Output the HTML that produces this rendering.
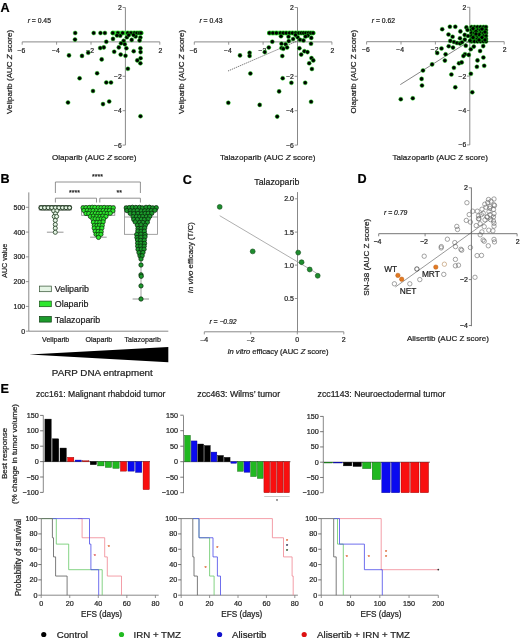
<!DOCTYPE html>
<html><head><meta charset="utf-8"><style>
html,body{margin:0;padding:0;background:#fff;}
body{width:520px;height:641px;overflow:hidden;}
svg{display:block;font-family:"Liberation Sans", sans-serif;will-change:transform;font-variant-ligatures:none;}
text{stroke:#1e1e1e;stroke-width:0.22px;}
text.nb{stroke:none;}
</style></head><body>
<svg width="520" height="641" viewBox="0 0 520 641">
<defs><filter id="gb" x="-20%" y="-50%" width="140%" height="200%"><feGaussianBlur stdDeviation="0.6"/></filter></defs>
<rect width="520" height="641" fill="#fff"/>
<text x="0.60" y="11.60" font-size="12.6" text-anchor="start" font-weight="bold" fill="#000" style="stroke:#000">A</text>
<line x1="22.20" y1="41.90" x2="159.80" y2="41.90" stroke="#7a7a7a" stroke-width="0.9"/>
<line x1="125.40" y1="7.50" x2="125.40" y2="145.10" stroke="#7a7a7a" stroke-width="0.9"/>
<line x1="22.20" y1="41.90" x2="22.20" y2="44.70" stroke="#7a7a7a" stroke-width="0.8"/>
<text x="21.40" y="52.60" font-size="6.8" text-anchor="middle" fill="#1e1e1e">−6</text>
<line x1="56.60" y1="41.90" x2="56.60" y2="44.70" stroke="#7a7a7a" stroke-width="0.8"/>
<text x="55.80" y="52.60" font-size="6.8" text-anchor="middle" fill="#1e1e1e">−4</text>
<line x1="91.00" y1="41.90" x2="91.00" y2="44.70" stroke="#7a7a7a" stroke-width="0.8"/>
<text x="90.20" y="52.60" font-size="6.8" text-anchor="middle" fill="#1e1e1e">−2</text>
<line x1="159.80" y1="41.90" x2="159.80" y2="44.70" stroke="#7a7a7a" stroke-width="0.8"/>
<text x="160.30" y="52.60" font-size="6.8" text-anchor="middle" fill="#1e1e1e">2</text>
<line x1="122.60" y1="7.50" x2="125.40" y2="7.50" stroke="#7a7a7a" stroke-width="0.8"/>
<text x="121.80" y="9.90" font-size="6.8" text-anchor="end" fill="#1e1e1e">2</text>
<line x1="122.60" y1="76.30" x2="125.40" y2="76.30" stroke="#7a7a7a" stroke-width="0.8"/>
<text x="121.80" y="78.70" font-size="6.8" text-anchor="end" fill="#1e1e1e">−2</text>
<line x1="122.60" y1="110.70" x2="125.40" y2="110.70" stroke="#7a7a7a" stroke-width="0.8"/>
<text x="121.80" y="113.10" font-size="6.8" text-anchor="end" fill="#1e1e1e">−4</text>
<line x1="122.60" y1="145.10" x2="125.40" y2="145.10" stroke="#7a7a7a" stroke-width="0.8"/>
<text x="121.80" y="147.50" font-size="6.8" text-anchor="end" fill="#1e1e1e">−6</text>
<text x="27.70" y="22.50" font-size="6.8" fill="#1e1e1e"><tspan font-style="italic">r</tspan> = 0.45</text>
<text x="12.20" y="71.90" font-size="8" text-anchor="middle" fill="#1e1e1e" transform="rotate(-90 12.20 71.90)">Veliparib (AUC <tspan font-style="italic">Z</tspan> score)</text>
<text x="94.30" y="160.3" font-size="8.1" text-anchor="middle" fill="#1e1e1e">Olaparib (AUC <tspan font-style="italic">Z</tspan> score)</text>
<rect x="110.5" y="30.8" width="33.0" height="4.4" rx="2" fill="#22dd22" opacity="0.8" filter="url(#gb)"/>
<circle cx="75.20" cy="33.00" r="2.05" fill="#000" stroke="#19e019" stroke-width="0.45"/>
<circle cx="93.70" cy="33.00" r="2.05" fill="#000" stroke="#19e019" stroke-width="0.45"/>
<circle cx="100.50" cy="33.00" r="2.05" fill="#000" stroke="#19e019" stroke-width="0.45"/>
<circle cx="104.90" cy="33.00" r="2.05" fill="#000" stroke="#19e019" stroke-width="0.45"/>
<circle cx="112.80" cy="33.00" r="2.05" fill="#000" stroke="#19e019" stroke-width="0.45"/>
<circle cx="117.90" cy="33.00" r="2.05" fill="#000" stroke="#19e019" stroke-width="0.45"/>
<circle cx="122.60" cy="33.00" r="2.05" fill="#000" stroke="#19e019" stroke-width="0.45"/>
<circle cx="127.70" cy="33.00" r="2.05" fill="#000" stroke="#19e019" stroke-width="0.45"/>
<circle cx="131.00" cy="33.00" r="2.05" fill="#000" stroke="#19e019" stroke-width="0.45"/>
<circle cx="134.30" cy="33.00" r="2.05" fill="#000" stroke="#19e019" stroke-width="0.45"/>
<circle cx="137.00" cy="33.00" r="2.05" fill="#000" stroke="#19e019" stroke-width="0.45"/>
<circle cx="139.40" cy="33.00" r="2.05" fill="#000" stroke="#19e019" stroke-width="0.45"/>
<circle cx="141.00" cy="33.00" r="2.05" fill="#000" stroke="#19e019" stroke-width="0.45"/>
<circle cx="75.00" cy="39.60" r="2.05" fill="#000" stroke="#19e019" stroke-width="0.45"/>
<circle cx="120.20" cy="35.80" r="2.05" fill="#000" stroke="#19e019" stroke-width="0.45"/>
<circle cx="126.90" cy="37.30" r="2.05" fill="#000" stroke="#19e019" stroke-width="0.45"/>
<circle cx="128.80" cy="35.10" r="2.05" fill="#000" stroke="#19e019" stroke-width="0.45"/>
<circle cx="135.60" cy="36.50" r="2.05" fill="#000" stroke="#19e019" stroke-width="0.45"/>
<circle cx="140.40" cy="37.50" r="2.05" fill="#000" stroke="#19e019" stroke-width="0.45"/>
<circle cx="113.00" cy="38.90" r="2.05" fill="#000" stroke="#19e019" stroke-width="0.45"/>
<circle cx="131.70" cy="39.90" r="2.05" fill="#000" stroke="#19e019" stroke-width="0.45"/>
<circle cx="139.60" cy="40.40" r="2.05" fill="#000" stroke="#19e019" stroke-width="0.45"/>
<circle cx="106.30" cy="41.80" r="2.05" fill="#000" stroke="#19e019" stroke-width="0.45"/>
<circle cx="123.60" cy="40.90" r="2.05" fill="#000" stroke="#19e019" stroke-width="0.45"/>
<circle cx="121.00" cy="43.30" r="2.05" fill="#000" stroke="#19e019" stroke-width="0.45"/>
<circle cx="124.80" cy="44.20" r="2.05" fill="#000" stroke="#19e019" stroke-width="0.45"/>
<circle cx="103.80" cy="47.40" r="2.05" fill="#000" stroke="#19e019" stroke-width="0.45"/>
<circle cx="100.20" cy="48.00" r="2.05" fill="#000" stroke="#19e019" stroke-width="0.45"/>
<circle cx="118.80" cy="47.40" r="2.05" fill="#000" stroke="#19e019" stroke-width="0.45"/>
<circle cx="126.40" cy="48.30" r="2.05" fill="#000" stroke="#19e019" stroke-width="0.45"/>
<circle cx="140.40" cy="48.30" r="2.05" fill="#000" stroke="#19e019" stroke-width="0.45"/>
<circle cx="114.20" cy="51.70" r="2.05" fill="#000" stroke="#19e019" stroke-width="0.45"/>
<circle cx="133.70" cy="51.20" r="2.05" fill="#000" stroke="#19e019" stroke-width="0.45"/>
<circle cx="140.60" cy="52.10" r="2.05" fill="#000" stroke="#19e019" stroke-width="0.45"/>
<circle cx="120.70" cy="54.60" r="2.05" fill="#000" stroke="#19e019" stroke-width="0.45"/>
<circle cx="125.50" cy="55.80" r="2.05" fill="#000" stroke="#19e019" stroke-width="0.45"/>
<circle cx="101.70" cy="59.40" r="2.05" fill="#000" stroke="#19e019" stroke-width="0.45"/>
<circle cx="140.60" cy="58.20" r="2.05" fill="#000" stroke="#19e019" stroke-width="0.45"/>
<circle cx="137.30" cy="60.40" r="2.05" fill="#000" stroke="#19e019" stroke-width="0.45"/>
<circle cx="140.40" cy="63.30" r="2.05" fill="#000" stroke="#19e019" stroke-width="0.45"/>
<circle cx="127.90" cy="68.80" r="2.05" fill="#000" stroke="#19e019" stroke-width="0.45"/>
<circle cx="69.00" cy="55.40" r="2.05" fill="#000" stroke="#19e019" stroke-width="0.45"/>
<circle cx="82.00" cy="55.90" r="2.05" fill="#000" stroke="#19e019" stroke-width="0.45"/>
<circle cx="88.20" cy="52.80" r="2.05" fill="#000" stroke="#19e019" stroke-width="0.45"/>
<circle cx="79.60" cy="78.30" r="2.05" fill="#000" stroke="#19e019" stroke-width="0.45"/>
<circle cx="97.10" cy="73.30" r="2.05" fill="#000" stroke="#19e019" stroke-width="0.45"/>
<circle cx="93.00" cy="91.00" r="2.05" fill="#000" stroke="#19e019" stroke-width="0.45"/>
<circle cx="106.30" cy="82.50" r="2.05" fill="#000" stroke="#19e019" stroke-width="0.45"/>
<circle cx="111.00" cy="82.50" r="2.05" fill="#000" stroke="#19e019" stroke-width="0.45"/>
<circle cx="68.00" cy="102.50" r="2.05" fill="#000" stroke="#19e019" stroke-width="0.45"/>
<circle cx="103.00" cy="104.10" r="2.05" fill="#000" stroke="#19e019" stroke-width="0.45"/>
<circle cx="109.20" cy="101.50" r="2.05" fill="#000" stroke="#19e019" stroke-width="0.45"/>
<circle cx="140.50" cy="116.20" r="2.05" fill="#000" stroke="#19e019" stroke-width="0.45"/>
<circle cx="133.50" cy="35.00" r="2.05" fill="#000" stroke="#19e019" stroke-width="0.45"/>
<circle cx="117.00" cy="35.50" r="2.05" fill="#000" stroke="#19e019" stroke-width="0.45"/>
<line x1="194.30" y1="41.90" x2="331.90" y2="41.90" stroke="#7a7a7a" stroke-width="0.9"/>
<line x1="297.50" y1="7.50" x2="297.50" y2="145.10" stroke="#7a7a7a" stroke-width="0.9"/>
<line x1="194.30" y1="41.90" x2="194.30" y2="44.70" stroke="#7a7a7a" stroke-width="0.8"/>
<text x="193.50" y="52.60" font-size="6.8" text-anchor="middle" fill="#1e1e1e">−6</text>
<line x1="228.70" y1="41.90" x2="228.70" y2="44.70" stroke="#7a7a7a" stroke-width="0.8"/>
<text x="227.90" y="52.60" font-size="6.8" text-anchor="middle" fill="#1e1e1e">−4</text>
<line x1="263.10" y1="41.90" x2="263.10" y2="44.70" stroke="#7a7a7a" stroke-width="0.8"/>
<text x="262.30" y="52.60" font-size="6.8" text-anchor="middle" fill="#1e1e1e">−2</text>
<line x1="331.90" y1="41.90" x2="331.90" y2="44.70" stroke="#7a7a7a" stroke-width="0.8"/>
<text x="332.40" y="52.60" font-size="6.8" text-anchor="middle" fill="#1e1e1e">2</text>
<line x1="294.70" y1="7.50" x2="297.50" y2="7.50" stroke="#7a7a7a" stroke-width="0.8"/>
<text x="293.90" y="9.90" font-size="6.8" text-anchor="end" fill="#1e1e1e">2</text>
<line x1="294.70" y1="76.30" x2="297.50" y2="76.30" stroke="#7a7a7a" stroke-width="0.8"/>
<text x="293.90" y="78.70" font-size="6.8" text-anchor="end" fill="#1e1e1e">−2</text>
<line x1="294.70" y1="110.70" x2="297.50" y2="110.70" stroke="#7a7a7a" stroke-width="0.8"/>
<text x="293.90" y="113.10" font-size="6.8" text-anchor="end" fill="#1e1e1e">−4</text>
<line x1="294.70" y1="145.10" x2="297.50" y2="145.10" stroke="#7a7a7a" stroke-width="0.8"/>
<text x="293.90" y="147.50" font-size="6.8" text-anchor="end" fill="#1e1e1e">−6</text>
<text x="199.40" y="23.10" font-size="6.8" fill="#1e1e1e"><tspan font-style="italic">r</tspan> = 0.43</text>
<text x="184.10" y="71.90" font-size="8" text-anchor="middle" fill="#1e1e1e" transform="rotate(-90 184.10 71.90)">Veliparib (AUC <tspan font-style="italic">Z</tspan> score)</text>
<text x="267.70" y="160.3" font-size="8.1" text-anchor="middle" fill="#1e1e1e">Talazoparib (AUC <tspan font-style="italic">Z</tspan> score)</text>
<line x1="228.00" y1="71.00" x2="310.00" y2="35.50" stroke="#333" stroke-width="0.7" stroke-dasharray="1.3,0.9"/>
<rect x="267.0" y="30.8" width="48.5" height="4.4" rx="2" fill="#22dd22" opacity="0.8" filter="url(#gb)"/>
<circle cx="269.40" cy="33.00" r="2.05" fill="#000" stroke="#19e019" stroke-width="0.45"/>
<circle cx="272.90" cy="33.00" r="2.05" fill="#000" stroke="#19e019" stroke-width="0.45"/>
<circle cx="276.40" cy="33.00" r="2.05" fill="#000" stroke="#19e019" stroke-width="0.45"/>
<circle cx="280.30" cy="33.00" r="2.05" fill="#000" stroke="#19e019" stroke-width="0.45"/>
<circle cx="283.20" cy="33.00" r="2.05" fill="#000" stroke="#19e019" stroke-width="0.45"/>
<circle cx="286.20" cy="33.00" r="2.05" fill="#000" stroke="#19e019" stroke-width="0.45"/>
<circle cx="289.50" cy="33.00" r="2.05" fill="#000" stroke="#19e019" stroke-width="0.45"/>
<circle cx="292.50" cy="33.00" r="2.05" fill="#000" stroke="#19e019" stroke-width="0.45"/>
<circle cx="295.70" cy="33.00" r="2.05" fill="#000" stroke="#19e019" stroke-width="0.45"/>
<circle cx="298.90" cy="33.00" r="2.05" fill="#000" stroke="#19e019" stroke-width="0.45"/>
<circle cx="301.30" cy="33.00" r="2.05" fill="#000" stroke="#19e019" stroke-width="0.45"/>
<circle cx="303.60" cy="33.00" r="2.05" fill="#000" stroke="#19e019" stroke-width="0.45"/>
<circle cx="306.00" cy="33.00" r="2.05" fill="#000" stroke="#19e019" stroke-width="0.45"/>
<circle cx="308.40" cy="33.00" r="2.05" fill="#000" stroke="#19e019" stroke-width="0.45"/>
<circle cx="310.80" cy="33.00" r="2.05" fill="#000" stroke="#19e019" stroke-width="0.45"/>
<circle cx="313.10" cy="33.00" r="2.05" fill="#000" stroke="#19e019" stroke-width="0.45"/>
<circle cx="281.00" cy="36.20" r="2.05" fill="#000" stroke="#19e019" stroke-width="0.45"/>
<circle cx="288.50" cy="36.70" r="2.05" fill="#000" stroke="#19e019" stroke-width="0.45"/>
<circle cx="293.10" cy="39.00" r="2.05" fill="#000" stroke="#19e019" stroke-width="0.45"/>
<circle cx="297.70" cy="37.30" r="2.05" fill="#000" stroke="#19e019" stroke-width="0.45"/>
<circle cx="300.00" cy="39.80" r="2.05" fill="#000" stroke="#19e019" stroke-width="0.45"/>
<circle cx="303.50" cy="40.50" r="2.05" fill="#000" stroke="#19e019" stroke-width="0.45"/>
<circle cx="307.80" cy="35.60" r="2.05" fill="#000" stroke="#19e019" stroke-width="0.45"/>
<circle cx="311.30" cy="37.90" r="2.05" fill="#000" stroke="#19e019" stroke-width="0.45"/>
<circle cx="272.30" cy="41.70" r="2.05" fill="#000" stroke="#19e019" stroke-width="0.45"/>
<circle cx="288.80" cy="41.10" r="2.05" fill="#000" stroke="#19e019" stroke-width="0.45"/>
<circle cx="281.50" cy="43.70" r="2.05" fill="#000" stroke="#19e019" stroke-width="0.45"/>
<circle cx="285.60" cy="44.20" r="2.05" fill="#000" stroke="#19e019" stroke-width="0.45"/>
<circle cx="268.80" cy="47.50" r="2.05" fill="#000" stroke="#19e019" stroke-width="0.45"/>
<circle cx="264.80" cy="52.10" r="2.05" fill="#000" stroke="#19e019" stroke-width="0.45"/>
<circle cx="281.50" cy="48.00" r="2.05" fill="#000" stroke="#19e019" stroke-width="0.45"/>
<circle cx="283.30" cy="48.80" r="2.05" fill="#000" stroke="#19e019" stroke-width="0.45"/>
<circle cx="287.10" cy="47.50" r="2.05" fill="#000" stroke="#19e019" stroke-width="0.45"/>
<circle cx="282.30" cy="56.00" r="2.05" fill="#000" stroke="#19e019" stroke-width="0.45"/>
<circle cx="299.40" cy="48.30" r="2.05" fill="#000" stroke="#19e019" stroke-width="0.45"/>
<circle cx="301.20" cy="54.60" r="2.05" fill="#000" stroke="#19e019" stroke-width="0.45"/>
<circle cx="304.40" cy="51.20" r="2.05" fill="#000" stroke="#19e019" stroke-width="0.45"/>
<circle cx="307.50" cy="52.10" r="2.05" fill="#000" stroke="#19e019" stroke-width="0.45"/>
<circle cx="311.00" cy="43.70" r="2.05" fill="#000" stroke="#19e019" stroke-width="0.45"/>
<circle cx="311.50" cy="58.10" r="2.05" fill="#000" stroke="#19e019" stroke-width="0.45"/>
<circle cx="313.30" cy="60.40" r="2.05" fill="#000" stroke="#19e019" stroke-width="0.45"/>
<circle cx="309.20" cy="63.30" r="2.05" fill="#000" stroke="#19e019" stroke-width="0.45"/>
<circle cx="311.90" cy="69.00" r="2.05" fill="#000" stroke="#19e019" stroke-width="0.45"/>
<circle cx="282.70" cy="78.30" r="2.05" fill="#000" stroke="#19e019" stroke-width="0.45"/>
<circle cx="240.00" cy="55.40" r="2.05" fill="#000" stroke="#19e019" stroke-width="0.45"/>
<circle cx="249.60" cy="52.80" r="2.05" fill="#000" stroke="#19e019" stroke-width="0.45"/>
<circle cx="249.60" cy="55.90" r="2.05" fill="#000" stroke="#19e019" stroke-width="0.45"/>
<circle cx="250.40" cy="73.50" r="2.05" fill="#000" stroke="#19e019" stroke-width="0.45"/>
<circle cx="228.30" cy="102.80" r="2.05" fill="#000" stroke="#19e019" stroke-width="0.45"/>
<circle cx="259.70" cy="104.90" r="2.05" fill="#000" stroke="#19e019" stroke-width="0.45"/>
<circle cx="277.20" cy="116.60" r="2.05" fill="#000" stroke="#19e019" stroke-width="0.45"/>
<circle cx="279.10" cy="91.40" r="2.05" fill="#000" stroke="#19e019" stroke-width="0.45"/>
<circle cx="291.40" cy="82.80" r="2.05" fill="#000" stroke="#19e019" stroke-width="0.45"/>
<circle cx="305.20" cy="82.80" r="2.05" fill="#000" stroke="#19e019" stroke-width="0.45"/>
<circle cx="311.10" cy="101.80" r="2.05" fill="#000" stroke="#19e019" stroke-width="0.45"/>
<circle cx="295.50" cy="35.00" r="2.05" fill="#000" stroke="#19e019" stroke-width="0.45"/>
<circle cx="305.50" cy="36.50" r="2.05" fill="#000" stroke="#19e019" stroke-width="0.45"/>
<line x1="366.60" y1="41.70" x2="504.20" y2="41.70" stroke="#7a7a7a" stroke-width="0.9"/>
<line x1="469.80" y1="7.30" x2="469.80" y2="144.90" stroke="#7a7a7a" stroke-width="0.9"/>
<line x1="366.60" y1="41.70" x2="366.60" y2="44.50" stroke="#7a7a7a" stroke-width="0.8"/>
<text x="365.80" y="52.40" font-size="6.8" text-anchor="middle" fill="#1e1e1e">−6</text>
<line x1="401.00" y1="41.70" x2="401.00" y2="44.50" stroke="#7a7a7a" stroke-width="0.8"/>
<text x="400.20" y="52.40" font-size="6.8" text-anchor="middle" fill="#1e1e1e">−4</text>
<line x1="435.40" y1="41.70" x2="435.40" y2="44.50" stroke="#7a7a7a" stroke-width="0.8"/>
<text x="434.60" y="52.40" font-size="6.8" text-anchor="middle" fill="#1e1e1e">−2</text>
<line x1="504.20" y1="41.70" x2="504.20" y2="44.50" stroke="#7a7a7a" stroke-width="0.8"/>
<text x="504.70" y="52.40" font-size="6.8" text-anchor="middle" fill="#1e1e1e">2</text>
<line x1="467.00" y1="7.30" x2="469.80" y2="7.30" stroke="#7a7a7a" stroke-width="0.8"/>
<text x="466.20" y="9.70" font-size="6.8" text-anchor="end" fill="#1e1e1e">2</text>
<line x1="467.00" y1="76.10" x2="469.80" y2="76.10" stroke="#7a7a7a" stroke-width="0.8"/>
<text x="466.20" y="78.50" font-size="6.8" text-anchor="end" fill="#1e1e1e">−2</text>
<line x1="467.00" y1="110.50" x2="469.80" y2="110.50" stroke="#7a7a7a" stroke-width="0.8"/>
<text x="466.20" y="112.90" font-size="6.8" text-anchor="end" fill="#1e1e1e">−4</text>
<line x1="467.00" y1="144.90" x2="469.80" y2="144.90" stroke="#7a7a7a" stroke-width="0.8"/>
<text x="466.20" y="147.30" font-size="6.8" text-anchor="end" fill="#1e1e1e">−6</text>
<text x="371.80" y="23.10" font-size="6.8" fill="#1e1e1e"><tspan font-style="italic">r</tspan> = 0.62</text>
<text x="356.40" y="71.70" font-size="8" text-anchor="middle" fill="#1e1e1e" transform="rotate(-90 356.40 71.70)">Olaparib (AUC Z score)</text>
<text x="440.20" y="160.3" font-size="8.1" text-anchor="middle" fill="#1e1e1e">Talazoparib (AUC Z score)</text>
<line x1="400.30" y1="84.60" x2="487.00" y2="30.00" stroke="#333" stroke-width="0.6"/>
<rect x="470.0" y="26.0" width="17.0" height="16.5" rx="2" fill="#22dd22" opacity="0.7" filter="url(#gb)"/>
<circle cx="471.50" cy="27.00" r="2.05" fill="#000" stroke="#19e019" stroke-width="0.45"/>
<circle cx="474.50" cy="27.00" r="2.05" fill="#000" stroke="#19e019" stroke-width="0.45"/>
<circle cx="477.50" cy="27.00" r="2.05" fill="#000" stroke="#19e019" stroke-width="0.45"/>
<circle cx="480.50" cy="27.00" r="2.05" fill="#000" stroke="#19e019" stroke-width="0.45"/>
<circle cx="483.50" cy="27.00" r="2.05" fill="#000" stroke="#19e019" stroke-width="0.45"/>
<circle cx="486.00" cy="27.00" r="2.05" fill="#000" stroke="#19e019" stroke-width="0.45"/>
<circle cx="471.50" cy="30.00" r="2.05" fill="#000" stroke="#19e019" stroke-width="0.45"/>
<circle cx="474.50" cy="30.00" r="2.05" fill="#000" stroke="#19e019" stroke-width="0.45"/>
<circle cx="477.50" cy="30.00" r="2.05" fill="#000" stroke="#19e019" stroke-width="0.45"/>
<circle cx="480.50" cy="30.00" r="2.05" fill="#000" stroke="#19e019" stroke-width="0.45"/>
<circle cx="483.50" cy="30.00" r="2.05" fill="#000" stroke="#19e019" stroke-width="0.45"/>
<circle cx="486.00" cy="30.00" r="2.05" fill="#000" stroke="#19e019" stroke-width="0.45"/>
<circle cx="471.50" cy="33.00" r="2.05" fill="#000" stroke="#19e019" stroke-width="0.45"/>
<circle cx="474.50" cy="33.00" r="2.05" fill="#000" stroke="#19e019" stroke-width="0.45"/>
<circle cx="477.50" cy="33.00" r="2.05" fill="#000" stroke="#19e019" stroke-width="0.45"/>
<circle cx="480.50" cy="33.00" r="2.05" fill="#000" stroke="#19e019" stroke-width="0.45"/>
<circle cx="483.50" cy="33.00" r="2.05" fill="#000" stroke="#19e019" stroke-width="0.45"/>
<circle cx="486.00" cy="33.00" r="2.05" fill="#000" stroke="#19e019" stroke-width="0.45"/>
<circle cx="471.50" cy="36.00" r="2.05" fill="#000" stroke="#19e019" stroke-width="0.45"/>
<circle cx="474.50" cy="36.00" r="2.05" fill="#000" stroke="#19e019" stroke-width="0.45"/>
<circle cx="477.50" cy="36.00" r="2.05" fill="#000" stroke="#19e019" stroke-width="0.45"/>
<circle cx="480.50" cy="36.00" r="2.05" fill="#000" stroke="#19e019" stroke-width="0.45"/>
<circle cx="483.50" cy="36.00" r="2.05" fill="#000" stroke="#19e019" stroke-width="0.45"/>
<circle cx="486.00" cy="36.00" r="2.05" fill="#000" stroke="#19e019" stroke-width="0.45"/>
<circle cx="471.50" cy="39.00" r="2.05" fill="#000" stroke="#19e019" stroke-width="0.45"/>
<circle cx="474.50" cy="39.00" r="2.05" fill="#000" stroke="#19e019" stroke-width="0.45"/>
<circle cx="477.50" cy="39.00" r="2.05" fill="#000" stroke="#19e019" stroke-width="0.45"/>
<circle cx="480.50" cy="39.00" r="2.05" fill="#000" stroke="#19e019" stroke-width="0.45"/>
<circle cx="483.50" cy="39.00" r="2.05" fill="#000" stroke="#19e019" stroke-width="0.45"/>
<circle cx="486.00" cy="39.00" r="2.05" fill="#000" stroke="#19e019" stroke-width="0.45"/>
<circle cx="471.50" cy="41.50" r="2.05" fill="#000" stroke="#19e019" stroke-width="0.45"/>
<circle cx="474.50" cy="41.50" r="2.05" fill="#000" stroke="#19e019" stroke-width="0.45"/>
<circle cx="477.50" cy="41.50" r="2.05" fill="#000" stroke="#19e019" stroke-width="0.45"/>
<circle cx="480.50" cy="41.50" r="2.05" fill="#000" stroke="#19e019" stroke-width="0.45"/>
<circle cx="483.50" cy="41.50" r="2.05" fill="#000" stroke="#19e019" stroke-width="0.45"/>
<circle cx="486.00" cy="41.50" r="2.05" fill="#000" stroke="#19e019" stroke-width="0.45"/>
<circle cx="473.00" cy="28.50" r="2.05" fill="#000" stroke="#19e019" stroke-width="0.45"/>
<circle cx="476.00" cy="31.50" r="2.05" fill="#000" stroke="#19e019" stroke-width="0.45"/>
<circle cx="479.00" cy="34.50" r="2.05" fill="#000" stroke="#19e019" stroke-width="0.45"/>
<circle cx="482.00" cy="37.50" r="2.05" fill="#000" stroke="#19e019" stroke-width="0.45"/>
<circle cx="485.00" cy="40.00" r="2.05" fill="#000" stroke="#19e019" stroke-width="0.45"/>
<circle cx="473.00" cy="37.50" r="2.05" fill="#000" stroke="#19e019" stroke-width="0.45"/>
<circle cx="476.00" cy="34.00" r="2.05" fill="#000" stroke="#19e019" stroke-width="0.45"/>
<circle cx="479.00" cy="40.00" r="2.05" fill="#000" stroke="#19e019" stroke-width="0.45"/>
<circle cx="482.00" cy="29.00" r="2.05" fill="#000" stroke="#19e019" stroke-width="0.45"/>
<circle cx="485.00" cy="32.00" r="2.05" fill="#000" stroke="#19e019" stroke-width="0.45"/>
<circle cx="442.20" cy="29.20" r="2.05" fill="#000" stroke="#19e019" stroke-width="0.45"/>
<circle cx="449.90" cy="26.70" r="2.05" fill="#000" stroke="#19e019" stroke-width="0.45"/>
<circle cx="455.30" cy="26.70" r="2.05" fill="#000" stroke="#19e019" stroke-width="0.45"/>
<circle cx="466.40" cy="27.40" r="2.05" fill="#000" stroke="#19e019" stroke-width="0.45"/>
<circle cx="460.40" cy="31.40" r="2.05" fill="#000" stroke="#19e019" stroke-width="0.45"/>
<circle cx="448.50" cy="34.50" r="2.05" fill="#000" stroke="#19e019" stroke-width="0.45"/>
<circle cx="452.60" cy="36.80" r="2.05" fill="#000" stroke="#19e019" stroke-width="0.45"/>
<circle cx="460.00" cy="38.30" r="2.05" fill="#000" stroke="#19e019" stroke-width="0.45"/>
<circle cx="464.70" cy="34.90" r="2.05" fill="#000" stroke="#19e019" stroke-width="0.45"/>
<circle cx="464.80" cy="39.60" r="2.05" fill="#000" stroke="#19e019" stroke-width="0.45"/>
<circle cx="450.30" cy="40.90" r="2.05" fill="#000" stroke="#19e019" stroke-width="0.45"/>
<circle cx="454.00" cy="42.00" r="2.05" fill="#000" stroke="#19e019" stroke-width="0.45"/>
<circle cx="457.00" cy="43.00" r="2.05" fill="#000" stroke="#19e019" stroke-width="0.45"/>
<circle cx="460.00" cy="43.50" r="2.05" fill="#000" stroke="#19e019" stroke-width="0.45"/>
<circle cx="462.00" cy="42.30" r="2.05" fill="#000" stroke="#19e019" stroke-width="0.45"/>
<circle cx="448.70" cy="46.20" r="2.05" fill="#000" stroke="#19e019" stroke-width="0.45"/>
<circle cx="453.00" cy="47.60" r="2.05" fill="#000" stroke="#19e019" stroke-width="0.45"/>
<circle cx="465.80" cy="45.70" r="2.05" fill="#000" stroke="#19e019" stroke-width="0.45"/>
<circle cx="441.50" cy="48.50" r="2.05" fill="#000" stroke="#19e019" stroke-width="0.45"/>
<circle cx="437.20" cy="53.00" r="2.05" fill="#000" stroke="#19e019" stroke-width="0.45"/>
<circle cx="445.60" cy="54.30" r="2.05" fill="#000" stroke="#19e019" stroke-width="0.45"/>
<circle cx="444.90" cy="60.60" r="2.05" fill="#000" stroke="#19e019" stroke-width="0.45"/>
<circle cx="432.10" cy="64.40" r="2.05" fill="#000" stroke="#19e019" stroke-width="0.45"/>
<circle cx="423.00" cy="70.50" r="2.05" fill="#000" stroke="#19e019" stroke-width="0.45"/>
<circle cx="421.60" cy="78.90" r="2.05" fill="#000" stroke="#19e019" stroke-width="0.45"/>
<circle cx="422.00" cy="85.50" r="2.05" fill="#000" stroke="#19e019" stroke-width="0.45"/>
<circle cx="470.80" cy="49.20" r="2.05" fill="#000" stroke="#19e019" stroke-width="0.45"/>
<circle cx="473.80" cy="46.60" r="2.05" fill="#000" stroke="#19e019" stroke-width="0.45"/>
<circle cx="483.20" cy="46.10" r="2.05" fill="#000" stroke="#19e019" stroke-width="0.45"/>
<circle cx="480.10" cy="51.00" r="2.05" fill="#000" stroke="#19e019" stroke-width="0.45"/>
<circle cx="465.00" cy="54.20" r="2.05" fill="#000" stroke="#19e019" stroke-width="0.45"/>
<circle cx="463.40" cy="56.00" r="2.05" fill="#000" stroke="#19e019" stroke-width="0.45"/>
<circle cx="468.80" cy="54.90" r="2.05" fill="#000" stroke="#19e019" stroke-width="0.45"/>
<circle cx="459.00" cy="63.30" r="2.05" fill="#000" stroke="#19e019" stroke-width="0.45"/>
<circle cx="461.70" cy="62.40" r="2.05" fill="#000" stroke="#19e019" stroke-width="0.45"/>
<circle cx="453.90" cy="67.80" r="2.05" fill="#000" stroke="#19e019" stroke-width="0.45"/>
<circle cx="451.40" cy="74.50" r="2.05" fill="#000" stroke="#19e019" stroke-width="0.45"/>
<circle cx="470.90" cy="73.80" r="2.05" fill="#000" stroke="#19e019" stroke-width="0.45"/>
<circle cx="477.50" cy="60.40" r="2.05" fill="#000" stroke="#19e019" stroke-width="0.45"/>
<circle cx="483.40" cy="57.50" r="2.05" fill="#000" stroke="#19e019" stroke-width="0.45"/>
<circle cx="476.90" cy="66.80" r="2.05" fill="#000" stroke="#19e019" stroke-width="0.45"/>
<circle cx="484.20" cy="65.80" r="2.05" fill="#000" stroke="#19e019" stroke-width="0.45"/>
<circle cx="455.30" cy="87.30" r="2.05" fill="#000" stroke="#19e019" stroke-width="0.45"/>
<circle cx="400.80" cy="99.20" r="2.05" fill="#000" stroke="#19e019" stroke-width="0.45"/>
<circle cx="412.80" cy="98.30" r="2.05" fill="#000" stroke="#19e019" stroke-width="0.45"/>
<circle cx="472.30" cy="92.30" r="2.05" fill="#000" stroke="#19e019" stroke-width="0.45"/>
<circle cx="470.00" cy="40.70" r="2.05" fill="#000" stroke="#19e019" stroke-width="0.45"/>
<circle cx="467.50" cy="30.00" r="2.05" fill="#000" stroke="#19e019" stroke-width="0.45"/>
<circle cx="468.00" cy="36.00" r="2.05" fill="#000" stroke="#19e019" stroke-width="0.45"/>
<text x="0.60" y="183.40" font-size="12.6" text-anchor="start" font-weight="bold" fill="#000" style="stroke:#000">B</text>
<line x1="28.80" y1="192.40" x2="28.80" y2="331.20" stroke="#7a7a7a" stroke-width="0.9"/>
<line x1="28.80" y1="331.20" x2="168.30" y2="331.20" stroke="#7a7a7a" stroke-width="0.9"/>
<line x1="25.80" y1="331.20" x2="28.80" y2="331.20" stroke="#7a7a7a" stroke-width="0.8"/>
<text x="25.20" y="333.70" font-size="7" text-anchor="end" fill="#1e1e1e">0</text>
<line x1="25.80" y1="306.42" x2="28.80" y2="306.42" stroke="#7a7a7a" stroke-width="0.8"/>
<text x="25.20" y="308.92" font-size="7" text-anchor="end" fill="#1e1e1e">100</text>
<line x1="25.80" y1="281.64" x2="28.80" y2="281.64" stroke="#7a7a7a" stroke-width="0.8"/>
<text x="25.20" y="284.14" font-size="7" text-anchor="end" fill="#1e1e1e">200</text>
<line x1="25.80" y1="256.86" x2="28.80" y2="256.86" stroke="#7a7a7a" stroke-width="0.8"/>
<text x="25.20" y="259.36" font-size="7" text-anchor="end" fill="#1e1e1e">300</text>
<line x1="25.80" y1="232.08" x2="28.80" y2="232.08" stroke="#7a7a7a" stroke-width="0.8"/>
<text x="25.20" y="234.58" font-size="7" text-anchor="end" fill="#1e1e1e">400</text>
<line x1="25.80" y1="207.30" x2="28.80" y2="207.30" stroke="#7a7a7a" stroke-width="0.8"/>
<text x="25.20" y="209.80" font-size="7" text-anchor="end" fill="#1e1e1e">500</text>
<text x="7.2" y="260.8" font-size="7.15" text-anchor="middle" fill="#1e1e1e" transform="rotate(-90 7.2 260.8)">AUC value</text>
<text x="55.70" y="341.80" font-size="7.1" text-anchor="middle" fill="#1e1e1e">Veliparib</text>
<text x="98.90" y="341.80" font-size="7.1" text-anchor="middle" fill="#1e1e1e">Olaparib</text>
<text x="142.70" y="341.80" font-size="7.1" text-anchor="middle" fill="#1e1e1e">Talazoparib</text>
<path d="M55.4,193 V182 H140.4 V193" stroke="#777" stroke-width="0.8" fill="none"/>
<path d="M55.4,202.5 V198.2 H96.5 V202.5" stroke="#777" stroke-width="0.8" fill="none"/>
<path d="M99.8,202.5 V198.2 H140.4 V202.5" stroke="#777" stroke-width="0.8" fill="none"/>
<text x="97.50" y="179.20" font-size="7" text-anchor="middle" fill="#1e1e1e">****</text>
<text x="74.50" y="195.40" font-size="7" text-anchor="middle" fill="#1e1e1e">****</text>
<text x="119.30" y="195.40" font-size="7" text-anchor="middle" fill="#1e1e1e">**</text>
<rect x="39.20" y="205.60" width="32.00" height="4.40" fill="none" stroke="#8a8a8a" stroke-width="0.8"/>
<line x1="46.90" y1="232.20" x2="63.50" y2="232.20" stroke="#8a8a8a" stroke-width="0.9"/>
<rect x="81.60" y="205.90" width="33.20" height="9.40" fill="none" stroke="#8a8a8a" stroke-width="0.8"/>
<line x1="98.50" y1="215.30" x2="98.50" y2="237.20" stroke="#8a8a8a" stroke-width="0.8"/>
<line x1="90.10" y1="237.20" x2="106.70" y2="237.20" stroke="#8a8a8a" stroke-width="0.9"/>
<rect x="124.50" y="206.10" width="33.00" height="28.20" fill="none" stroke="#8a8a8a" stroke-width="0.8"/>
<line x1="124.50" y1="217.00" x2="157.50" y2="217.00" stroke="#8a8a8a" stroke-width="0.8"/>
<line x1="141.00" y1="234.30" x2="141.00" y2="299.00" stroke="#8a8a8a" stroke-width="0.8"/>
<line x1="132.60" y1="299.00" x2="149.00" y2="299.00" stroke="#8a8a8a" stroke-width="0.9"/>
<circle cx="41.00" cy="207.70" r="1.95" fill="#e4f4e4" stroke="#1e3a1e" stroke-width="0.9"/>
<circle cx="44.58" cy="207.70" r="1.95" fill="#e4f4e4" stroke="#1e3a1e" stroke-width="0.9"/>
<circle cx="48.15" cy="207.70" r="1.95" fill="#e4f4e4" stroke="#1e3a1e" stroke-width="0.9"/>
<circle cx="51.72" cy="207.70" r="1.95" fill="#e4f4e4" stroke="#1e3a1e" stroke-width="0.9"/>
<circle cx="55.30" cy="207.70" r="1.95" fill="#e4f4e4" stroke="#1e3a1e" stroke-width="0.9"/>
<circle cx="58.88" cy="207.70" r="1.95" fill="#e4f4e4" stroke="#1e3a1e" stroke-width="0.9"/>
<circle cx="62.45" cy="207.70" r="1.95" fill="#e4f4e4" stroke="#1e3a1e" stroke-width="0.9"/>
<circle cx="66.02" cy="207.70" r="1.95" fill="#e4f4e4" stroke="#1e3a1e" stroke-width="0.9"/>
<circle cx="69.60" cy="207.70" r="1.95" fill="#e4f4e4" stroke="#1e3a1e" stroke-width="0.9"/>
<rect x="38.9" y="205.5" width="32.8" height="4.6" rx="2.2" fill="none" stroke="#2a3f2a" stroke-width="0.7"/>
<circle cx="53.70" cy="210.90" r="2.05" fill="#e4f4e4" stroke="#1e3a1e" stroke-width="0.8"/>
<circle cx="56.90" cy="210.90" r="2.05" fill="#e4f4e4" stroke="#1e3a1e" stroke-width="0.8"/>
<circle cx="55.40" cy="213.80" r="2.05" fill="#e4f4e4" stroke="#1e3a1e" stroke-width="0.8"/>
<circle cx="54.20" cy="216.50" r="2.05" fill="#e4f4e4" stroke="#1e3a1e" stroke-width="0.8"/>
<circle cx="56.60" cy="216.50" r="2.05" fill="#e4f4e4" stroke="#1e3a1e" stroke-width="0.8"/>
<circle cx="55.30" cy="220.40" r="2.05" fill="#e4f4e4" stroke="#1e3a1e" stroke-width="0.8"/>
<circle cx="55.30" cy="224.50" r="2.05" fill="#e4f4e4" stroke="#1e3a1e" stroke-width="0.8"/>
<circle cx="55.30" cy="228.20" r="2.05" fill="#e4f4e4" stroke="#1e3a1e" stroke-width="0.8"/>
<circle cx="55.30" cy="232.30" r="2.05" fill="#e4f4e4" stroke="#1e3a1e" stroke-width="0.8"/>
<circle cx="83.07" cy="207.82" r="2.15" fill="#2ee82e" stroke="#0c3a0c" stroke-width="0.8"/>
<circle cx="85.98" cy="207.66" r="2.15" fill="#2ee82e" stroke="#0c3a0c" stroke-width="0.8"/>
<circle cx="89.30" cy="207.51" r="2.15" fill="#2ee82e" stroke="#0c3a0c" stroke-width="0.8"/>
<circle cx="92.23" cy="207.29" r="2.15" fill="#2ee82e" stroke="#0c3a0c" stroke-width="0.8"/>
<circle cx="94.89" cy="207.39" r="2.15" fill="#2ee82e" stroke="#0c3a0c" stroke-width="0.8"/>
<circle cx="98.33" cy="207.55" r="2.15" fill="#2ee82e" stroke="#0c3a0c" stroke-width="0.8"/>
<circle cx="101.07" cy="207.66" r="2.15" fill="#2ee82e" stroke="#0c3a0c" stroke-width="0.8"/>
<circle cx="104.17" cy="207.46" r="2.15" fill="#2ee82e" stroke="#0c3a0c" stroke-width="0.8"/>
<circle cx="107.41" cy="207.74" r="2.15" fill="#2ee82e" stroke="#0c3a0c" stroke-width="0.8"/>
<circle cx="110.02" cy="207.65" r="2.15" fill="#2ee82e" stroke="#0c3a0c" stroke-width="0.8"/>
<circle cx="113.22" cy="207.86" r="2.15" fill="#2ee82e" stroke="#0c3a0c" stroke-width="0.8"/>
<circle cx="83.96" cy="210.45" r="2.15" fill="#2ee82e" stroke="#0c3a0c" stroke-width="0.8"/>
<circle cx="87.34" cy="210.33" r="2.15" fill="#2ee82e" stroke="#0c3a0c" stroke-width="0.8"/>
<circle cx="90.14" cy="210.78" r="2.15" fill="#2ee82e" stroke="#0c3a0c" stroke-width="0.8"/>
<circle cx="93.16" cy="210.59" r="2.15" fill="#2ee82e" stroke="#0c3a0c" stroke-width="0.8"/>
<circle cx="96.28" cy="210.72" r="2.15" fill="#2ee82e" stroke="#0c3a0c" stroke-width="0.8"/>
<circle cx="99.99" cy="210.65" r="2.15" fill="#2ee82e" stroke="#0c3a0c" stroke-width="0.8"/>
<circle cx="103.26" cy="210.47" r="2.15" fill="#2ee82e" stroke="#0c3a0c" stroke-width="0.8"/>
<circle cx="106.34" cy="210.67" r="2.15" fill="#2ee82e" stroke="#0c3a0c" stroke-width="0.8"/>
<circle cx="109.46" cy="210.57" r="2.15" fill="#2ee82e" stroke="#0c3a0c" stroke-width="0.8"/>
<circle cx="112.84" cy="210.91" r="2.15" fill="#2ee82e" stroke="#0c3a0c" stroke-width="0.8"/>
<circle cx="85.98" cy="213.51" r="2.15" fill="#2ee82e" stroke="#0c3a0c" stroke-width="0.8"/>
<circle cx="88.75" cy="213.54" r="2.15" fill="#2ee82e" stroke="#0c3a0c" stroke-width="0.8"/>
<circle cx="92.23" cy="213.75" r="2.15" fill="#2ee82e" stroke="#0c3a0c" stroke-width="0.8"/>
<circle cx="95.41" cy="213.25" r="2.15" fill="#2ee82e" stroke="#0c3a0c" stroke-width="0.8"/>
<circle cx="98.17" cy="213.52" r="2.15" fill="#2ee82e" stroke="#0c3a0c" stroke-width="0.8"/>
<circle cx="100.98" cy="213.37" r="2.15" fill="#2ee82e" stroke="#0c3a0c" stroke-width="0.8"/>
<circle cx="104.14" cy="213.13" r="2.15" fill="#2ee82e" stroke="#0c3a0c" stroke-width="0.8"/>
<circle cx="107.13" cy="213.59" r="2.15" fill="#2ee82e" stroke="#0c3a0c" stroke-width="0.8"/>
<circle cx="110.24" cy="213.22" r="2.15" fill="#2ee82e" stroke="#0c3a0c" stroke-width="0.8"/>
<circle cx="90.42" cy="216.46" r="2.15" fill="#2ee82e" stroke="#0c3a0c" stroke-width="0.8"/>
<circle cx="93.31" cy="216.16" r="2.15" fill="#2ee82e" stroke="#0c3a0c" stroke-width="0.8"/>
<circle cx="96.73" cy="216.47" r="2.15" fill="#2ee82e" stroke="#0c3a0c" stroke-width="0.8"/>
<circle cx="100.02" cy="216.45" r="2.15" fill="#2ee82e" stroke="#0c3a0c" stroke-width="0.8"/>
<circle cx="102.74" cy="216.14" r="2.15" fill="#2ee82e" stroke="#0c3a0c" stroke-width="0.8"/>
<circle cx="105.90" cy="216.47" r="2.15" fill="#2ee82e" stroke="#0c3a0c" stroke-width="0.8"/>
<circle cx="92.82" cy="218.86" r="2.15" fill="#2ee82e" stroke="#0c3a0c" stroke-width="0.8"/>
<circle cx="95.15" cy="218.91" r="2.15" fill="#2ee82e" stroke="#0c3a0c" stroke-width="0.8"/>
<circle cx="98.06" cy="219.09" r="2.15" fill="#2ee82e" stroke="#0c3a0c" stroke-width="0.8"/>
<circle cx="101.19" cy="218.93" r="2.15" fill="#2ee82e" stroke="#0c3a0c" stroke-width="0.8"/>
<circle cx="103.65" cy="219.04" r="2.15" fill="#2ee82e" stroke="#0c3a0c" stroke-width="0.8"/>
<circle cx="93.41" cy="222.25" r="2.15" fill="#2ee82e" stroke="#0c3a0c" stroke-width="0.8"/>
<circle cx="96.98" cy="222.33" r="2.15" fill="#2ee82e" stroke="#0c3a0c" stroke-width="0.8"/>
<circle cx="99.84" cy="222.28" r="2.15" fill="#2ee82e" stroke="#0c3a0c" stroke-width="0.8"/>
<circle cx="103.12" cy="221.89" r="2.15" fill="#2ee82e" stroke="#0c3a0c" stroke-width="0.8"/>
<circle cx="94.28" cy="225.50" r="2.15" fill="#2ee82e" stroke="#0c3a0c" stroke-width="0.8"/>
<circle cx="97.10" cy="225.51" r="2.15" fill="#2ee82e" stroke="#0c3a0c" stroke-width="0.8"/>
<circle cx="99.59" cy="225.23" r="2.15" fill="#2ee82e" stroke="#0c3a0c" stroke-width="0.8"/>
<circle cx="102.22" cy="225.39" r="2.15" fill="#2ee82e" stroke="#0c3a0c" stroke-width="0.8"/>
<circle cx="94.19" cy="228.10" r="2.15" fill="#2ee82e" stroke="#0c3a0c" stroke-width="0.8"/>
<circle cx="98.05" cy="228.16" r="2.15" fill="#2ee82e" stroke="#0c3a0c" stroke-width="0.8"/>
<circle cx="101.89" cy="228.09" r="2.15" fill="#2ee82e" stroke="#0c3a0c" stroke-width="0.8"/>
<circle cx="95.15" cy="231.26" r="2.15" fill="#2ee82e" stroke="#0c3a0c" stroke-width="0.8"/>
<circle cx="98.22" cy="231.40" r="2.15" fill="#2ee82e" stroke="#0c3a0c" stroke-width="0.8"/>
<circle cx="101.17" cy="231.76" r="2.15" fill="#2ee82e" stroke="#0c3a0c" stroke-width="0.8"/>
<circle cx="96.08" cy="234.35" r="2.15" fill="#2ee82e" stroke="#0c3a0c" stroke-width="0.8"/>
<circle cx="98.33" cy="234.49" r="2.15" fill="#2ee82e" stroke="#0c3a0c" stroke-width="0.8"/>
<circle cx="100.90" cy="234.34" r="2.15" fill="#2ee82e" stroke="#0c3a0c" stroke-width="0.8"/>
<circle cx="98.50" cy="237.40" r="2.15" fill="#2ee82e" stroke="#0c3a0c" stroke-width="0.8"/>
<circle cx="126.24" cy="207.95" r="2.15" fill="#1c9a2c" stroke="#082e0b" stroke-width="0.8"/>
<circle cx="129.31" cy="207.59" r="2.15" fill="#1c9a2c" stroke="#082e0b" stroke-width="0.8"/>
<circle cx="132.38" cy="207.32" r="2.15" fill="#1c9a2c" stroke="#082e0b" stroke-width="0.8"/>
<circle cx="135.89" cy="207.44" r="2.15" fill="#1c9a2c" stroke="#082e0b" stroke-width="0.8"/>
<circle cx="139.56" cy="207.36" r="2.15" fill="#1c9a2c" stroke="#082e0b" stroke-width="0.8"/>
<circle cx="142.33" cy="207.92" r="2.15" fill="#1c9a2c" stroke="#082e0b" stroke-width="0.8"/>
<circle cx="146.02" cy="207.35" r="2.15" fill="#1c9a2c" stroke="#082e0b" stroke-width="0.8"/>
<circle cx="149.36" cy="207.27" r="2.15" fill="#1c9a2c" stroke="#082e0b" stroke-width="0.8"/>
<circle cx="152.69" cy="207.93" r="2.15" fill="#1c9a2c" stroke="#082e0b" stroke-width="0.8"/>
<circle cx="156.25" cy="207.74" r="2.15" fill="#1c9a2c" stroke="#082e0b" stroke-width="0.8"/>
<circle cx="126.83" cy="210.51" r="2.15" fill="#1c9a2c" stroke="#082e0b" stroke-width="0.8"/>
<circle cx="130.27" cy="210.79" r="2.15" fill="#1c9a2c" stroke="#082e0b" stroke-width="0.8"/>
<circle cx="134.02" cy="210.80" r="2.15" fill="#1c9a2c" stroke="#082e0b" stroke-width="0.8"/>
<circle cx="137.38" cy="210.41" r="2.15" fill="#1c9a2c" stroke="#082e0b" stroke-width="0.8"/>
<circle cx="141.22" cy="210.94" r="2.15" fill="#1c9a2c" stroke="#082e0b" stroke-width="0.8"/>
<circle cx="144.75" cy="210.81" r="2.15" fill="#1c9a2c" stroke="#082e0b" stroke-width="0.8"/>
<circle cx="148.22" cy="210.77" r="2.15" fill="#1c9a2c" stroke="#082e0b" stroke-width="0.8"/>
<circle cx="151.31" cy="210.61" r="2.15" fill="#1c9a2c" stroke="#082e0b" stroke-width="0.8"/>
<circle cx="154.90" cy="210.27" r="2.15" fill="#1c9a2c" stroke="#082e0b" stroke-width="0.8"/>
<circle cx="130.17" cy="213.35" r="2.15" fill="#1c9a2c" stroke="#082e0b" stroke-width="0.8"/>
<circle cx="133.91" cy="213.63" r="2.15" fill="#1c9a2c" stroke="#082e0b" stroke-width="0.8"/>
<circle cx="137.99" cy="213.46" r="2.15" fill="#1c9a2c" stroke="#082e0b" stroke-width="0.8"/>
<circle cx="141.56" cy="213.84" r="2.15" fill="#1c9a2c" stroke="#082e0b" stroke-width="0.8"/>
<circle cx="145.15" cy="213.41" r="2.15" fill="#1c9a2c" stroke="#082e0b" stroke-width="0.8"/>
<circle cx="148.22" cy="213.31" r="2.15" fill="#1c9a2c" stroke="#082e0b" stroke-width="0.8"/>
<circle cx="151.79" cy="213.29" r="2.15" fill="#1c9a2c" stroke="#082e0b" stroke-width="0.8"/>
<circle cx="133.09" cy="216.68" r="2.15" fill="#1c9a2c" stroke="#082e0b" stroke-width="0.8"/>
<circle cx="136.54" cy="216.39" r="2.15" fill="#1c9a2c" stroke="#082e0b" stroke-width="0.8"/>
<circle cx="139.71" cy="216.61" r="2.15" fill="#1c9a2c" stroke="#082e0b" stroke-width="0.8"/>
<circle cx="142.61" cy="216.51" r="2.15" fill="#1c9a2c" stroke="#082e0b" stroke-width="0.8"/>
<circle cx="146.49" cy="216.60" r="2.15" fill="#1c9a2c" stroke="#082e0b" stroke-width="0.8"/>
<circle cx="149.68" cy="216.38" r="2.15" fill="#1c9a2c" stroke="#082e0b" stroke-width="0.8"/>
<circle cx="133.77" cy="219.50" r="2.15" fill="#1c9a2c" stroke="#082e0b" stroke-width="0.8"/>
<circle cx="137.38" cy="219.51" r="2.15" fill="#1c9a2c" stroke="#082e0b" stroke-width="0.8"/>
<circle cx="141.33" cy="219.23" r="2.15" fill="#1c9a2c" stroke="#082e0b" stroke-width="0.8"/>
<circle cx="144.43" cy="219.61" r="2.15" fill="#1c9a2c" stroke="#082e0b" stroke-width="0.8"/>
<circle cx="148.16" cy="219.07" r="2.15" fill="#1c9a2c" stroke="#082e0b" stroke-width="0.8"/>
<circle cx="135.24" cy="221.96" r="2.15" fill="#1c9a2c" stroke="#082e0b" stroke-width="0.8"/>
<circle cx="139.62" cy="222.41" r="2.15" fill="#1c9a2c" stroke="#082e0b" stroke-width="0.8"/>
<circle cx="142.92" cy="222.43" r="2.15" fill="#1c9a2c" stroke="#082e0b" stroke-width="0.8"/>
<circle cx="147.34" cy="222.31" r="2.15" fill="#1c9a2c" stroke="#082e0b" stroke-width="0.8"/>
<circle cx="137.40" cy="225.23" r="2.15" fill="#1c9a2c" stroke="#082e0b" stroke-width="0.8"/>
<circle cx="140.99" cy="224.86" r="2.15" fill="#1c9a2c" stroke="#082e0b" stroke-width="0.8"/>
<circle cx="145.33" cy="225.30" r="2.15" fill="#1c9a2c" stroke="#082e0b" stroke-width="0.8"/>
<circle cx="138.02" cy="228.50" r="2.15" fill="#1c9a2c" stroke="#082e0b" stroke-width="0.8"/>
<circle cx="141.20" cy="228.46" r="2.15" fill="#1c9a2c" stroke="#082e0b" stroke-width="0.8"/>
<circle cx="144.73" cy="228.00" r="2.15" fill="#1c9a2c" stroke="#082e0b" stroke-width="0.8"/>
<circle cx="137.83" cy="231.06" r="2.15" fill="#1c9a2c" stroke="#082e0b" stroke-width="0.8"/>
<circle cx="141.07" cy="231.26" r="2.15" fill="#1c9a2c" stroke="#082e0b" stroke-width="0.8"/>
<circle cx="144.33" cy="231.14" r="2.15" fill="#1c9a2c" stroke="#082e0b" stroke-width="0.8"/>
<circle cx="136.74" cy="234.49" r="2.15" fill="#1c9a2c" stroke="#082e0b" stroke-width="0.8"/>
<circle cx="140.90" cy="234.17" r="2.15" fill="#1c9a2c" stroke="#082e0b" stroke-width="0.8"/>
<circle cx="145.06" cy="234.48" r="2.15" fill="#1c9a2c" stroke="#082e0b" stroke-width="0.8"/>
<circle cx="136.94" cy="237.49" r="2.15" fill="#1c9a2c" stroke="#082e0b" stroke-width="0.8"/>
<circle cx="141.00" cy="237.22" r="2.15" fill="#1c9a2c" stroke="#082e0b" stroke-width="0.8"/>
<circle cx="145.02" cy="236.86" r="2.15" fill="#1c9a2c" stroke="#082e0b" stroke-width="0.8"/>
<circle cx="137.46" cy="239.98" r="2.15" fill="#1c9a2c" stroke="#082e0b" stroke-width="0.8"/>
<circle cx="140.65" cy="240.41" r="2.15" fill="#1c9a2c" stroke="#082e0b" stroke-width="0.8"/>
<circle cx="144.27" cy="240.18" r="2.15" fill="#1c9a2c" stroke="#082e0b" stroke-width="0.8"/>
<circle cx="137.66" cy="243.24" r="2.15" fill="#1c9a2c" stroke="#082e0b" stroke-width="0.8"/>
<circle cx="140.88" cy="243.21" r="2.15" fill="#1c9a2c" stroke="#082e0b" stroke-width="0.8"/>
<circle cx="144.54" cy="243.40" r="2.15" fill="#1c9a2c" stroke="#082e0b" stroke-width="0.8"/>
<circle cx="137.72" cy="246.24" r="2.15" fill="#1c9a2c" stroke="#082e0b" stroke-width="0.8"/>
<circle cx="140.82" cy="246.04" r="2.15" fill="#1c9a2c" stroke="#082e0b" stroke-width="0.8"/>
<circle cx="144.19" cy="246.21" r="2.15" fill="#1c9a2c" stroke="#082e0b" stroke-width="0.8"/>
<circle cx="138.04" cy="249.38" r="2.15" fill="#1c9a2c" stroke="#082e0b" stroke-width="0.8"/>
<circle cx="141.29" cy="249.16" r="2.15" fill="#1c9a2c" stroke="#082e0b" stroke-width="0.8"/>
<circle cx="144.08" cy="249.20" r="2.15" fill="#1c9a2c" stroke="#082e0b" stroke-width="0.8"/>
<circle cx="139.01" cy="252.63" r="2.15" fill="#1c9a2c" stroke="#082e0b" stroke-width="0.8"/>
<circle cx="142.97" cy="252.52" r="2.15" fill="#1c9a2c" stroke="#082e0b" stroke-width="0.8"/>
<circle cx="139.98" cy="255.81" r="2.15" fill="#1c9a2c" stroke="#082e0b" stroke-width="0.8"/>
<circle cx="142.14" cy="255.76" r="2.15" fill="#1c9a2c" stroke="#082e0b" stroke-width="0.8"/>
<circle cx="141.00" cy="259.00" r="2.15" fill="#1c9a2c" stroke="#082e0b" stroke-width="0.8"/>
<circle cx="141.00" cy="265.00" r="2.15" fill="#1c9a2c" stroke="#082e0b" stroke-width="0.8"/>
<circle cx="141.00" cy="274.80" r="2.15" fill="#1c9a2c" stroke="#082e0b" stroke-width="0.8"/>
<circle cx="141.20" cy="276.30" r="2.15" fill="#1c9a2c" stroke="#082e0b" stroke-width="0.8"/>
<circle cx="141.00" cy="285.90" r="2.15" fill="#1c9a2c" stroke="#082e0b" stroke-width="0.8"/>
<circle cx="141.00" cy="299.00" r="2.15" fill="#1c9a2c" stroke="#082e0b" stroke-width="0.8"/>
<rect x="39.50" y="286.10" width="11.80" height="5.60" fill="#e4f4e4" stroke="#2f4f2f" stroke-width="0.7"/>
<text x="54.80" y="292.10" font-size="8.9" text-anchor="start" fill="#1e1e1e">Veliparib</text>
<rect x="39.50" y="301.10" width="11.80" height="5.60" fill="#2ee82e" stroke="#145214" stroke-width="0.7"/>
<text x="54.80" y="307.10" font-size="8.9" text-anchor="start" fill="#1e1e1e">Olaparib</text>
<rect x="39.50" y="316.50" width="11.80" height="5.60" fill="#1c9a2c" stroke="#0b3d10" stroke-width="0.7"/>
<text x="54.80" y="322.50" font-size="8.9" text-anchor="start" fill="#1e1e1e">Talazoparib</text>
<polygon points="29.2,354.6 168.3,346.9 168.3,362.3" fill="#000"/>
<text x="102.30" y="376.00" font-size="9.8" text-anchor="middle" fill="#1e1e1e">PARP DNA entrapment</text>
<text x="182.70" y="183.60" font-size="12.6" text-anchor="start" font-weight="bold" fill="#000" style="stroke:#000">C</text>
<text x="276.80" y="185.00" font-size="8.8" text-anchor="middle" fill="#1e1e1e">Talazoparib</text>
<line x1="297.50" y1="192.10" x2="297.50" y2="331.80" stroke="#7a7a7a" stroke-width="0.9"/>
<line x1="204.30" y1="331.80" x2="343.80" y2="331.80" stroke="#7a7a7a" stroke-width="0.9"/>
<line x1="294.90" y1="198.80" x2="297.50" y2="198.80" stroke="#7a7a7a" stroke-width="0.8"/>
<text x="293.90" y="201.20" font-size="7" text-anchor="end" fill="#1e1e1e">2.0</text>
<line x1="294.90" y1="232.10" x2="297.50" y2="232.10" stroke="#7a7a7a" stroke-width="0.8"/>
<text x="293.90" y="234.50" font-size="7" text-anchor="end" fill="#1e1e1e">1.5</text>
<line x1="294.90" y1="265.10" x2="297.50" y2="265.10" stroke="#7a7a7a" stroke-width="0.8"/>
<text x="293.90" y="267.50" font-size="7" text-anchor="end" fill="#1e1e1e">1.0</text>
<line x1="294.90" y1="298.50" x2="297.50" y2="298.50" stroke="#7a7a7a" stroke-width="0.8"/>
<text x="293.90" y="300.90" font-size="7" text-anchor="end" fill="#1e1e1e">0.5</text>
<line x1="204.30" y1="331.80" x2="204.30" y2="334.40" stroke="#7a7a7a" stroke-width="0.8"/>
<text x="204.30" y="341.80" font-size="7" text-anchor="middle" fill="#1e1e1e">–4</text>
<line x1="250.80" y1="331.80" x2="250.80" y2="334.40" stroke="#7a7a7a" stroke-width="0.8"/>
<text x="250.80" y="341.80" font-size="7" text-anchor="middle" fill="#1e1e1e">–2</text>
<line x1="297.30" y1="331.80" x2="297.30" y2="334.40" stroke="#7a7a7a" stroke-width="0.8"/>
<text x="297.30" y="341.80" font-size="7" text-anchor="middle" fill="#1e1e1e">0</text>
<line x1="343.80" y1="331.80" x2="343.80" y2="334.40" stroke="#7a7a7a" stroke-width="0.8"/>
<text x="343.80" y="341.80" font-size="7" text-anchor="middle" fill="#1e1e1e">2</text>
<text x="192.8" y="257.7" font-size="7.8" text-anchor="middle" fill="#1e1e1e" transform="rotate(-90 192.8 257.7)"><tspan font-style="italic">In vivo</tspan> efficacy (T/C)</text>
<text x="278.0" y="353.6" font-size="7.6" text-anchor="middle" fill="#1e1e1e"><tspan font-style="italic">In vitro</tspan> efficacy (AUC <tspan font-style="italic">Z</tspan> score)</text>
<text x="209.4" y="324.1" font-size="6.8" fill="#1e1e1e" font-style="italic">r = −0.92</text>
<line x1="219.70" y1="215.70" x2="316.70" y2="273.20" stroke="#9a9a9a" stroke-width="0.8"/>
<circle cx="219.70" cy="206.90" r="2.45" fill="#1e8c2e" stroke="#0d4a16" stroke-width="0.6"/>
<circle cx="252.70" cy="251.40" r="2.45" fill="#1e8c2e" stroke="#0d4a16" stroke-width="0.6"/>
<circle cx="298.20" cy="252.60" r="2.45" fill="#1e8c2e" stroke="#0d4a16" stroke-width="0.6"/>
<circle cx="301.60" cy="262.20" r="2.45" fill="#1e8c2e" stroke="#0d4a16" stroke-width="0.6"/>
<circle cx="309.70" cy="269.50" r="2.45" fill="#1e8c2e" stroke="#0d4a16" stroke-width="0.6"/>
<circle cx="317.70" cy="275.80" r="2.45" fill="#1e8c2e" stroke="#0d4a16" stroke-width="0.6"/>
<text x="357.50" y="183.40" font-size="12.6" text-anchor="start" font-weight="bold" fill="#000" style="stroke:#000">D</text>
<line x1="471.40" y1="187.60" x2="471.40" y2="326.20" stroke="#666" stroke-width="0.9"/>
<line x1="378.70" y1="233.70" x2="517.10" y2="233.70" stroke="#666" stroke-width="0.9"/>
<line x1="468.80" y1="187.80" x2="471.40" y2="187.80" stroke="#666" stroke-width="0.8"/>
<text x="467.80" y="190.20" font-size="7" text-anchor="end" fill="#1e1e1e">2</text>
<line x1="468.80" y1="279.60" x2="471.40" y2="279.60" stroke="#666" stroke-width="0.8"/>
<text x="467.80" y="282.00" font-size="7" text-anchor="end" fill="#1e1e1e">−2</text>
<line x1="468.80" y1="325.50" x2="471.40" y2="325.50" stroke="#666" stroke-width="0.8"/>
<text x="467.80" y="327.90" font-size="7" text-anchor="end" fill="#1e1e1e">−4</text>
<line x1="378.70" y1="233.70" x2="378.70" y2="236.30" stroke="#666" stroke-width="0.8"/>
<text x="377.50" y="243.80" font-size="7" text-anchor="middle" fill="#1e1e1e">−4</text>
<line x1="425.10" y1="233.70" x2="425.10" y2="236.30" stroke="#666" stroke-width="0.8"/>
<text x="423.90" y="243.80" font-size="7" text-anchor="middle" fill="#1e1e1e">−2</text>
<line x1="517.10" y1="233.70" x2="517.10" y2="236.30" stroke="#666" stroke-width="0.8"/>
<text x="517.60" y="243.80" font-size="7" text-anchor="middle" fill="#1e1e1e">2</text>
<text x="384.1" y="214.8" font-size="6.8" fill="#1e1e1e" font-style="italic">r = 0.79</text>
<text x="369.0" y="257.3" font-size="8.1" text-anchor="middle" fill="#1e1e1e" transform="rotate(-90 369.0 257.3)">SN-38 (AUC Z score)</text>
<text x="447.9" y="341.0" font-size="8" text-anchor="middle" fill="#1e1e1e">Alisertib (AUC Z score)</text>
<line x1="395.40" y1="287.00" x2="495.50" y2="215.20" stroke="#444" stroke-width="0.55"/>
<circle cx="466.90" cy="202.70" r="2.2" fill="none" stroke="#666" stroke-width="0.6"/>
<circle cx="494.00" cy="199.00" r="2.2" fill="none" stroke="#666" stroke-width="0.6"/>
<circle cx="494.00" cy="204.80" r="2.2" fill="none" stroke="#666" stroke-width="0.6"/>
<circle cx="484.80" cy="204.20" r="2.2" fill="none" stroke="#666" stroke-width="0.6"/>
<circle cx="487.70" cy="202.50" r="2.2" fill="none" stroke="#666" stroke-width="0.6"/>
<circle cx="490.00" cy="206.50" r="2.2" fill="none" stroke="#666" stroke-width="0.6"/>
<circle cx="493.50" cy="209.40" r="2.2" fill="none" stroke="#666" stroke-width="0.6"/>
<circle cx="494.00" cy="213.50" r="2.2" fill="none" stroke="#666" stroke-width="0.6"/>
<circle cx="493.50" cy="216.90" r="2.2" fill="none" stroke="#666" stroke-width="0.6"/>
<circle cx="493.50" cy="221.00" r="2.2" fill="none" stroke="#666" stroke-width="0.6"/>
<circle cx="494.00" cy="223.30" r="2.2" fill="none" stroke="#666" stroke-width="0.6"/>
<circle cx="494.00" cy="226.20" r="2.2" fill="none" stroke="#666" stroke-width="0.6"/>
<circle cx="477.30" cy="211.20" r="2.2" fill="none" stroke="#666" stroke-width="0.6"/>
<circle cx="472.70" cy="211.20" r="2.2" fill="none" stroke="#666" stroke-width="0.6"/>
<circle cx="469.20" cy="214.60" r="2.2" fill="none" stroke="#666" stroke-width="0.6"/>
<circle cx="478.50" cy="215.80" r="2.2" fill="none" stroke="#666" stroke-width="0.6"/>
<circle cx="481.30" cy="214.60" r="2.2" fill="none" stroke="#666" stroke-width="0.6"/>
<circle cx="478.50" cy="218.70" r="2.2" fill="none" stroke="#666" stroke-width="0.6"/>
<circle cx="487.10" cy="216.90" r="2.2" fill="none" stroke="#666" stroke-width="0.6"/>
<circle cx="490.00" cy="214.60" r="2.2" fill="none" stroke="#666" stroke-width="0.6"/>
<circle cx="466.30" cy="220.40" r="2.2" fill="none" stroke="#666" stroke-width="0.6"/>
<circle cx="470.40" cy="222.10" r="2.2" fill="none" stroke="#666" stroke-width="0.6"/>
<circle cx="476.20" cy="225.60" r="2.2" fill="none" stroke="#666" stroke-width="0.6"/>
<circle cx="480.20" cy="223.80" r="2.2" fill="none" stroke="#666" stroke-width="0.6"/>
<circle cx="484.20" cy="226.70" r="2.2" fill="none" stroke="#666" stroke-width="0.6"/>
<circle cx="481.90" cy="231.90" r="2.2" fill="none" stroke="#666" stroke-width="0.6"/>
<circle cx="488.80" cy="230.20" r="2.2" fill="none" stroke="#666" stroke-width="0.6"/>
<circle cx="492.90" cy="230.80" r="2.2" fill="none" stroke="#666" stroke-width="0.6"/>
<circle cx="480.20" cy="234.80" r="2.2" fill="none" stroke="#666" stroke-width="0.6"/>
<circle cx="483.10" cy="240.00" r="2.2" fill="none" stroke="#666" stroke-width="0.6"/>
<circle cx="484.20" cy="241.20" r="2.2" fill="none" stroke="#666" stroke-width="0.6"/>
<circle cx="494.00" cy="239.40" r="2.2" fill="none" stroke="#666" stroke-width="0.6"/>
<circle cx="488.30" cy="245.80" r="2.2" fill="none" stroke="#666" stroke-width="0.6"/>
<circle cx="470.40" cy="247.50" r="2.2" fill="none" stroke="#666" stroke-width="0.6"/>
<circle cx="456.80" cy="226.40" r="2.2" fill="none" stroke="#666" stroke-width="0.6"/>
<circle cx="457.50" cy="229.50" r="2.2" fill="none" stroke="#666" stroke-width="0.6"/>
<circle cx="447.40" cy="239.20" r="2.2" fill="none" stroke="#666" stroke-width="0.6"/>
<circle cx="454.80" cy="242.60" r="2.2" fill="none" stroke="#666" stroke-width="0.6"/>
<circle cx="455.50" cy="246.60" r="2.2" fill="none" stroke="#666" stroke-width="0.6"/>
<circle cx="441.30" cy="246.60" r="2.2" fill="none" stroke="#666" stroke-width="0.6"/>
<circle cx="460.90" cy="249.30" r="2.2" fill="none" stroke="#666" stroke-width="0.6"/>
<circle cx="461.70" cy="250.20" r="2.2" fill="none" stroke="#666" stroke-width="0.6"/>
<circle cx="441.20" cy="247.90" r="2.2" fill="none" stroke="#666" stroke-width="0.6"/>
<circle cx="477.10" cy="255.60" r="2.2" fill="none" stroke="#666" stroke-width="0.6"/>
<circle cx="424.20" cy="256.20" r="2.2" fill="none" stroke="#666" stroke-width="0.6"/>
<circle cx="455.40" cy="259.40" r="2.2" fill="none" stroke="#666" stroke-width="0.6"/>
<circle cx="455.40" cy="265.80" r="2.2" fill="none" stroke="#666" stroke-width="0.6"/>
<circle cx="458.50" cy="265.20" r="2.2" fill="none" stroke="#666" stroke-width="0.6"/>
<circle cx="444.40" cy="264.20" r="2.2" fill="none" stroke="#b58a5a" stroke-width="0.6"/>
<circle cx="443.80" cy="274.40" r="2.2" fill="none" stroke="#666" stroke-width="0.6"/>
<circle cx="416.90" cy="269.00" r="2.2" fill="none" stroke="#333" stroke-width="0.75"/>
<circle cx="419.80" cy="279.60" r="2.2" fill="none" stroke="#666" stroke-width="0.6"/>
<circle cx="409.80" cy="283.80" r="2.2" fill="none" stroke="#666" stroke-width="0.6"/>
<circle cx="394.40" cy="283.80" r="2.2" fill="none" stroke="#666" stroke-width="0.6"/>
<circle cx="475.00" cy="277.30" r="2.2" fill="none" stroke="#666" stroke-width="0.6"/>
<circle cx="494.50" cy="241.90" r="2.2" fill="none" stroke="#666" stroke-width="0.6"/>
<circle cx="489.80" cy="208.30" r="2.2" fill="none" stroke="#666" stroke-width="0.6"/>
<circle cx="494.50" cy="205.60" r="2.2" fill="none" stroke="#666" stroke-width="0.6"/>
<circle cx="479.00" cy="219.00" r="2.2" fill="none" stroke="#666" stroke-width="0.6"/>
<circle cx="487.10" cy="217.00" r="2.2" fill="none" stroke="#666" stroke-width="0.6"/>
<circle cx="481.50" cy="255.40" r="2.2" fill="none" stroke="#666" stroke-width="0.6"/>
<circle cx="488.50" cy="199.50" r="2.2" fill="none" stroke="#666" stroke-width="0.6"/>
<circle cx="491.00" cy="201.20" r="2.2" fill="none" stroke="#666" stroke-width="0.6"/>
<circle cx="486.00" cy="207.20" r="2.2" fill="none" stroke="#666" stroke-width="0.6"/>
<circle cx="482.00" cy="209.20" r="2.2" fill="none" stroke="#666" stroke-width="0.6"/>
<circle cx="489.00" cy="211.60" r="2.2" fill="none" stroke="#666" stroke-width="0.6"/>
<circle cx="485.00" cy="219.80" r="2.2" fill="none" stroke="#666" stroke-width="0.6"/>
<circle cx="490.60" cy="219.60" r="2.2" fill="none" stroke="#666" stroke-width="0.6"/>
<circle cx="483.20" cy="213.20" r="2.2" fill="none" stroke="#666" stroke-width="0.6"/>
<circle cx="397.90" cy="275.40" r="2.2" fill="#e27a22" stroke="#b85a10" stroke-width="0.5"/>
<circle cx="401.70" cy="279.20" r="2.2" fill="#e27a22" stroke="#b85a10" stroke-width="0.5"/>
<circle cx="435.80" cy="267.10" r="2.2" fill="#e27a22" stroke="#b85a10" stroke-width="0.5"/>
<text x="384.20" y="271.70" font-size="8.3" text-anchor="start" fill="#1e1e1e">WT</text>
<text x="421.90" y="277.40" font-size="8.3" text-anchor="start" fill="#1e1e1e">MRT</text>
<text x="399.80" y="294.20" font-size="8.3" text-anchor="start" fill="#1e1e1e">NET</text>
<text x="0.40" y="392.80" font-size="12.6" text-anchor="start" font-weight="bold" fill="#000" style="stroke:#000">E</text>
<text x="36.00" y="396.80" font-size="8.6" text-anchor="start" fill="#1e1e1e">zcc161: Malignant rhabdoid tumor</text>
<text x="197.30" y="396.80" font-size="8.75" text-anchor="start" fill="#1e1e1e">zcc463: Wilms’ tumor</text>
<text x="317.60" y="396.80" font-size="8.7" text-anchor="start" fill="#1e1e1e">zcc1143: Neuroectodermal tumor</text>
<line x1="43.30" y1="415.40" x2="43.30" y2="492.40" stroke="#7a7a7a" stroke-width="0.9"/>
<line x1="40.10" y1="415.40" x2="43.30" y2="415.40" stroke="#555" stroke-width="0.8"/>
<text x="38.80" y="417.90" font-size="7.2" text-anchor="end" fill="#1e1e1e">150</text>
<line x1="40.10" y1="430.80" x2="43.30" y2="430.80" stroke="#555" stroke-width="0.8"/>
<text x="38.80" y="433.30" font-size="7.2" text-anchor="end" fill="#1e1e1e">100</text>
<line x1="40.10" y1="446.20" x2="43.30" y2="446.20" stroke="#555" stroke-width="0.8"/>
<text x="38.80" y="448.70" font-size="7.2" text-anchor="end" fill="#1e1e1e">50</text>
<line x1="40.10" y1="461.60" x2="43.30" y2="461.60" stroke="#555" stroke-width="0.8"/>
<text x="38.80" y="464.10" font-size="7.2" text-anchor="end" fill="#1e1e1e">0</text>
<line x1="40.10" y1="477.00" x2="43.30" y2="477.00" stroke="#555" stroke-width="0.8"/>
<text x="38.80" y="479.50" font-size="7.2" text-anchor="end" fill="#1e1e1e">−50</text>
<line x1="40.10" y1="492.40" x2="43.30" y2="492.40" stroke="#555" stroke-width="0.8"/>
<text x="38.80" y="494.90" font-size="7.2" text-anchor="end" fill="#1e1e1e">−100</text>
<line x1="43.30" y1="461.60" x2="150.00" y2="461.60" stroke="#555" stroke-width="0.8"/>
<rect x="44.90" y="419.10" width="6.30" height="42.50" fill="#000" stroke="#000" stroke-width="0.4"/>
<rect x="52.45" y="438.81" width="6.30" height="22.79" fill="#000" stroke="#000" stroke-width="0.4"/>
<rect x="60.00" y="448.05" width="6.30" height="13.55" fill="#000" stroke="#000" stroke-width="0.4"/>
<rect x="67.55" y="457.29" width="6.30" height="4.31" fill="#f80f0f" stroke="#8a0000" stroke-width="0.4"/>
<rect x="75.10" y="460.06" width="6.30" height="1.54" fill="#0a0af0" stroke="#00008a" stroke-width="0.4"/>
<rect x="82.65" y="460.80" width="6.30" height="0.80" fill="#f80f0f" stroke="#8a0000" stroke-width="0.4"/>
<rect x="90.20" y="461.60" width="6.30" height="3.08" fill="#000" stroke="#000" stroke-width="0.4"/>
<rect x="97.75" y="461.60" width="6.30" height="4.31" fill="#20b820" stroke="#0a5a0a" stroke-width="0.4"/>
<rect x="105.30" y="461.60" width="6.30" height="5.85" fill="#20b820" stroke="#0a5a0a" stroke-width="0.4"/>
<rect x="112.85" y="461.60" width="6.30" height="6.78" fill="#20b820" stroke="#0a5a0a" stroke-width="0.4"/>
<rect x="120.40" y="461.60" width="6.30" height="9.55" fill="#f80f0f" stroke="#8a0000" stroke-width="0.4"/>
<rect x="127.95" y="461.60" width="6.30" height="9.55" fill="#0a0af0" stroke="#00008a" stroke-width="0.4"/>
<rect x="135.50" y="461.60" width="6.30" height="10.78" fill="#0a0af0" stroke="#00008a" stroke-width="0.4"/>
<rect x="143.05" y="461.60" width="6.30" height="28.03" fill="#f80f0f" stroke="#8a0000" stroke-width="0.4"/>
<line x1="183.50" y1="415.60" x2="183.50" y2="493.10" stroke="#7a7a7a" stroke-width="0.9"/>
<line x1="180.30" y1="415.20" x2="183.50" y2="415.20" stroke="#555" stroke-width="0.8"/>
<text x="178.00" y="417.70" font-size="7.2" text-anchor="end" fill="#1e1e1e">150</text>
<line x1="180.30" y1="430.70" x2="183.50" y2="430.70" stroke="#555" stroke-width="0.8"/>
<text x="178.00" y="433.20" font-size="7.2" text-anchor="end" fill="#1e1e1e">100</text>
<line x1="180.30" y1="446.20" x2="183.50" y2="446.20" stroke="#555" stroke-width="0.8"/>
<text x="178.00" y="448.70" font-size="7.2" text-anchor="end" fill="#1e1e1e">50</text>
<line x1="180.30" y1="461.70" x2="183.50" y2="461.70" stroke="#555" stroke-width="0.8"/>
<text x="178.00" y="464.20" font-size="7.2" text-anchor="end" fill="#1e1e1e">0</text>
<line x1="180.30" y1="477.20" x2="183.50" y2="477.20" stroke="#555" stroke-width="0.8"/>
<text x="178.00" y="479.70" font-size="7.2" text-anchor="end" fill="#1e1e1e">−50</text>
<line x1="180.30" y1="492.70" x2="183.50" y2="492.70" stroke="#555" stroke-width="0.8"/>
<text x="178.00" y="495.20" font-size="7.2" text-anchor="end" fill="#1e1e1e">−100</text>
<line x1="183.50" y1="461.70" x2="290.50" y2="461.70" stroke="#555" stroke-width="0.8"/>
<rect x="184.60" y="435.35" width="5.80" height="26.35" fill="#20b820" stroke="#0a5a0a" stroke-width="0.4"/>
<rect x="191.21" y="440.93" width="5.80" height="20.77" fill="#0a0af0" stroke="#00008a" stroke-width="0.4"/>
<rect x="197.82" y="444.03" width="5.80" height="17.67" fill="#000" stroke="#000" stroke-width="0.4"/>
<rect x="204.43" y="445.58" width="5.80" height="16.12" fill="#000" stroke="#000" stroke-width="0.4"/>
<rect x="211.04" y="452.09" width="5.80" height="9.61" fill="#0a0af0" stroke="#00008a" stroke-width="0.4"/>
<rect x="217.65" y="455.50" width="5.80" height="6.20" fill="#000" stroke="#000" stroke-width="0.4"/>
<rect x="224.26" y="457.36" width="5.80" height="4.34" fill="#000" stroke="#000" stroke-width="0.4"/>
<rect x="230.87" y="461.70" width="5.80" height="1.55" fill="#0a0af0" stroke="#00008a" stroke-width="0.4"/>
<rect x="237.48" y="461.70" width="5.80" height="9.61" fill="#20b820" stroke="#0a5a0a" stroke-width="0.4"/>
<rect x="244.09" y="461.70" width="5.80" height="10.54" fill="#0a0af0" stroke="#00008a" stroke-width="0.4"/>
<rect x="250.70" y="461.70" width="5.80" height="14.88" fill="#20b820" stroke="#0a5a0a" stroke-width="0.4"/>
<rect x="257.31" y="461.70" width="5.80" height="16.74" fill="#20b820" stroke="#0a5a0a" stroke-width="0.4"/>
<rect x="263.92" y="461.70" width="5.80" height="31.00" fill="#f80f0f" stroke="#8a0000" stroke-width="0.4"/>
<rect x="270.53" y="461.70" width="5.80" height="31.00" fill="#f80f0f" stroke="#8a0000" stroke-width="0.4"/>
<rect x="277.14" y="461.70" width="5.80" height="31.00" fill="#f80f0f" stroke="#8a0000" stroke-width="0.4"/>
<rect x="283.75" y="461.70" width="5.80" height="31.00" fill="#f80f0f" stroke="#8a0000" stroke-width="0.4"/>
<line x1="264.20" y1="496.50" x2="289.60" y2="496.50" stroke="#bbb" stroke-width="0.8"/>
<text x="276.90" y="502.60" font-size="5" text-anchor="middle" fill="#777" style="stroke:#777">*</text>
<line x1="323.30" y1="416.30" x2="323.30" y2="492.60" stroke="#7a7a7a" stroke-width="0.9"/>
<line x1="320.10" y1="416.42" x2="323.30" y2="416.42" stroke="#555" stroke-width="0.8"/>
<text x="318.80" y="418.92" font-size="7.2" text-anchor="end" fill="#1e1e1e">150</text>
<line x1="320.10" y1="431.68" x2="323.30" y2="431.68" stroke="#555" stroke-width="0.8"/>
<text x="318.80" y="434.18" font-size="7.2" text-anchor="end" fill="#1e1e1e">100</text>
<line x1="320.10" y1="446.94" x2="323.30" y2="446.94" stroke="#555" stroke-width="0.8"/>
<text x="318.80" y="449.44" font-size="7.2" text-anchor="end" fill="#1e1e1e">50</text>
<line x1="320.10" y1="462.20" x2="323.30" y2="462.20" stroke="#555" stroke-width="0.8"/>
<text x="318.80" y="464.70" font-size="7.2" text-anchor="end" fill="#1e1e1e">0</text>
<line x1="320.10" y1="477.46" x2="323.30" y2="477.46" stroke="#555" stroke-width="0.8"/>
<text x="318.80" y="479.96" font-size="7.2" text-anchor="end" fill="#1e1e1e">−50</text>
<line x1="320.10" y1="492.72" x2="323.30" y2="492.72" stroke="#555" stroke-width="0.8"/>
<text x="318.80" y="495.22" font-size="7.2" text-anchor="end" fill="#1e1e1e">−100</text>
<line x1="323.30" y1="462.20" x2="430.00" y2="462.20" stroke="#555" stroke-width="0.8"/>
<rect x="324.20" y="462.20" width="8.40" height="0.80" fill="#20b820" stroke="#0a5a0a" stroke-width="0.4"/>
<rect x="333.80" y="462.20" width="8.40" height="0.80" fill="#0a0af0" stroke="#00008a" stroke-width="0.4"/>
<rect x="343.40" y="462.20" width="8.40" height="3.66" fill="#000" stroke="#000" stroke-width="0.4"/>
<rect x="353.00" y="462.20" width="8.40" height="4.27" fill="#000" stroke="#000" stroke-width="0.4"/>
<rect x="362.60" y="462.20" width="8.40" height="6.41" fill="#20b820" stroke="#0a5a0a" stroke-width="0.4"/>
<rect x="372.20" y="462.20" width="8.40" height="17.40" fill="#20b820" stroke="#0a5a0a" stroke-width="0.4"/>
<rect x="381.80" y="462.20" width="8.40" height="30.52" fill="#0a0af0" stroke="#00008a" stroke-width="0.4"/>
<rect x="391.40" y="462.20" width="8.40" height="30.52" fill="#0a0af0" stroke="#00008a" stroke-width="0.4"/>
<rect x="401.00" y="462.20" width="8.40" height="30.52" fill="#f80f0f" stroke="#8a0000" stroke-width="0.4"/>
<rect x="410.60" y="462.20" width="8.40" height="30.52" fill="#f80f0f" stroke="#8a0000" stroke-width="0.4"/>
<rect x="420.20" y="462.20" width="8.40" height="30.52" fill="#f80f0f" stroke="#8a0000" stroke-width="0.4"/>
<text x="7.1" y="453.4" font-size="8" text-anchor="middle" fill="#1e1e1e" transform="rotate(-90 7.1 453.4)">Best response</text>
<text x="17.3" y="454.0" font-size="8" text-anchor="middle" fill="#1e1e1e" transform="rotate(-90 17.3 454.0)">(% change in tumor volume)</text>
<line x1="41.30" y1="518.60" x2="41.30" y2="595.20" stroke="#7a7a7a" stroke-width="0.9"/>
<line x1="41.30" y1="595.20" x2="158.70" y2="595.20" stroke="#7a7a7a" stroke-width="0.9"/>
<line x1="38.30" y1="595.20" x2="41.30" y2="595.20" stroke="#555" stroke-width="0.8"/>
<text x="37.40" y="597.70" font-size="7.2" text-anchor="end" fill="#1e1e1e">0</text>
<line x1="38.30" y1="579.88" x2="41.30" y2="579.88" stroke="#555" stroke-width="0.8"/>
<text x="37.40" y="582.38" font-size="7.2" text-anchor="end" fill="#1e1e1e">20</text>
<line x1="38.30" y1="564.56" x2="41.30" y2="564.56" stroke="#555" stroke-width="0.8"/>
<text x="37.40" y="567.06" font-size="7.2" text-anchor="end" fill="#1e1e1e">40</text>
<line x1="38.30" y1="549.24" x2="41.30" y2="549.24" stroke="#555" stroke-width="0.8"/>
<text x="37.40" y="551.74" font-size="7.2" text-anchor="end" fill="#1e1e1e">60</text>
<line x1="38.30" y1="533.92" x2="41.30" y2="533.92" stroke="#555" stroke-width="0.8"/>
<text x="37.40" y="536.42" font-size="7.2" text-anchor="end" fill="#1e1e1e">80</text>
<line x1="38.30" y1="518.60" x2="41.30" y2="518.60" stroke="#555" stroke-width="0.8"/>
<text x="37.40" y="521.10" font-size="7.2" text-anchor="end" fill="#1e1e1e">100</text>
<line x1="41.20" y1="595.20" x2="41.20" y2="598.00" stroke="#7a7a7a" stroke-width="0.8"/>
<text x="41.20" y="606.30" font-size="7.2" text-anchor="middle" fill="#1e1e1e">0</text>
<line x1="69.75" y1="595.20" x2="69.75" y2="598.00" stroke="#7a7a7a" stroke-width="0.8"/>
<text x="69.75" y="606.30" font-size="7.2" text-anchor="middle" fill="#1e1e1e">20</text>
<line x1="98.30" y1="595.20" x2="98.30" y2="598.00" stroke="#7a7a7a" stroke-width="0.8"/>
<text x="98.30" y="606.30" font-size="7.2" text-anchor="middle" fill="#1e1e1e">40</text>
<line x1="126.85" y1="595.20" x2="126.85" y2="598.00" stroke="#7a7a7a" stroke-width="0.8"/>
<text x="126.85" y="606.30" font-size="7.2" text-anchor="middle" fill="#1e1e1e">60</text>
<line x1="155.40" y1="595.20" x2="155.40" y2="598.00" stroke="#7a7a7a" stroke-width="0.8"/>
<text x="155.40" y="606.30" font-size="7.2" text-anchor="middle" fill="#1e1e1e">80</text>
<path d="M78.00,518.60 H82.10 V537.75 H104.70 V556.90 H107.30 V576.05 H121.50 V595.20" stroke="#f08592" stroke-width="0.8" fill="none"/>
<path d="M41.30,518.60 H56.30 V544.11 H68.70 V569.69 H102.20 V595.20" stroke="#66c866" stroke-width="0.8" fill="none"/>
<path d="M52.40,518.60 H89.50 V544.11 H90.90 V569.69 H98.70 V595.20" stroke="#4a4ae8" stroke-width="0.8" fill="none"/>
<path d="M41.30,518.60 H52.40 V537.75 H53.50 V556.90 H55.60 V576.05 H67.10 V595.20" stroke="#5a5a5a" stroke-width="0.8" fill="none"/>
<text x="94.70" y="557.50" font-size="5.5" text-anchor="middle" fill="#e06060" style="stroke:#e06060">*</text>
<text x="108.90" y="549.20" font-size="5.5" text-anchor="middle" fill="#e07040" style="stroke:#e07040">*</text>
<text x="101.60" y="617.00" font-size="8.2" text-anchor="middle" fill="#1e1e1e">EFS (days)</text>
<line x1="181.10" y1="518.60" x2="181.10" y2="595.20" stroke="#7a7a7a" stroke-width="0.9"/>
<line x1="181.10" y1="595.20" x2="297.90" y2="595.20" stroke="#7a7a7a" stroke-width="0.9"/>
<line x1="178.10" y1="595.20" x2="181.10" y2="595.20" stroke="#555" stroke-width="0.8"/>
<text x="177.20" y="597.70" font-size="7.2" text-anchor="end" fill="#1e1e1e">0</text>
<line x1="178.10" y1="579.88" x2="181.10" y2="579.88" stroke="#555" stroke-width="0.8"/>
<text x="177.20" y="582.38" font-size="7.2" text-anchor="end" fill="#1e1e1e">20</text>
<line x1="178.10" y1="564.56" x2="181.10" y2="564.56" stroke="#555" stroke-width="0.8"/>
<text x="177.20" y="567.06" font-size="7.2" text-anchor="end" fill="#1e1e1e">40</text>
<line x1="178.10" y1="549.24" x2="181.10" y2="549.24" stroke="#555" stroke-width="0.8"/>
<text x="177.20" y="551.74" font-size="7.2" text-anchor="end" fill="#1e1e1e">60</text>
<line x1="178.10" y1="533.92" x2="181.10" y2="533.92" stroke="#555" stroke-width="0.8"/>
<text x="177.20" y="536.42" font-size="7.2" text-anchor="end" fill="#1e1e1e">80</text>
<line x1="178.10" y1="518.60" x2="181.10" y2="518.60" stroke="#555" stroke-width="0.8"/>
<text x="177.20" y="521.10" font-size="7.2" text-anchor="end" fill="#1e1e1e">100</text>
<line x1="181.20" y1="595.20" x2="181.20" y2="598.00" stroke="#7a7a7a" stroke-width="0.8"/>
<text x="181.20" y="606.30" font-size="7.2" text-anchor="middle" fill="#1e1e1e">0</text>
<line x1="209.60" y1="595.20" x2="209.60" y2="598.00" stroke="#7a7a7a" stroke-width="0.8"/>
<text x="209.60" y="606.30" font-size="7.2" text-anchor="middle" fill="#1e1e1e">20</text>
<line x1="238.00" y1="595.20" x2="238.00" y2="598.00" stroke="#7a7a7a" stroke-width="0.8"/>
<text x="238.00" y="606.30" font-size="7.2" text-anchor="middle" fill="#1e1e1e">40</text>
<line x1="266.40" y1="595.20" x2="266.40" y2="598.00" stroke="#7a7a7a" stroke-width="0.8"/>
<text x="266.40" y="606.30" font-size="7.2" text-anchor="middle" fill="#1e1e1e">60</text>
<line x1="294.80" y1="595.20" x2="294.80" y2="598.00" stroke="#7a7a7a" stroke-width="0.8"/>
<text x="294.80" y="606.30" font-size="7.2" text-anchor="middle" fill="#1e1e1e">80</text>
<path d="M199.00,518.60 H272.40 V537.75 H283.50 V556.90 H292.10 V576.05 H293.20 V595.20" stroke="#f08592" stroke-width="0.8" fill="none"/>
<path d="M192.80,518.60 H199.00 V537.75 H209.60 V576.05 H214.10 V595.20" stroke="#66c866" stroke-width="0.8" fill="none"/>
<path d="M192.80,518.60 H199.00 V537.75 H213.00 V556.90 H217.40 V576.05 H220.50 V595.20" stroke="#4a4ae8" stroke-width="0.8" fill="none"/>
<path d="M181.10,518.60 H192.80 V556.90 H194.00 V576.05 H197.40 V595.20" stroke="#5a5a5a" stroke-width="0.8" fill="none"/>
<text x="205.60" y="570.00" font-size="5.5" text-anchor="middle" fill="#e07040" style="stroke:#e07040">*</text>
<text x="217.30" y="550.30" font-size="5.5" text-anchor="middle" fill="#e07040" style="stroke:#e07040">*</text>
<text x="287.10" y="543.30" font-size="5.5" text-anchor="middle" fill="#e07040" style="stroke:#e07040">*</text>
<text x="287.10" y="548.40" font-size="5.5" text-anchor="middle" fill="#335" style="stroke:#335">*</text>
<text x="287.10" y="553.10" font-size="5.5" text-anchor="middle" fill="#353" style="stroke:#353">*</text>
<text x="241.80" y="617.00" font-size="8.2" text-anchor="middle" fill="#1e1e1e">EFS (days)</text>
<line x1="321.20" y1="518.60" x2="321.20" y2="595.20" stroke="#7a7a7a" stroke-width="0.9"/>
<line x1="321.20" y1="595.20" x2="438.30" y2="595.20" stroke="#7a7a7a" stroke-width="0.9"/>
<line x1="318.20" y1="595.20" x2="321.20" y2="595.20" stroke="#555" stroke-width="0.8"/>
<text x="317.30" y="597.70" font-size="7.2" text-anchor="end" fill="#1e1e1e">0</text>
<line x1="318.20" y1="579.88" x2="321.20" y2="579.88" stroke="#555" stroke-width="0.8"/>
<text x="317.30" y="582.38" font-size="7.2" text-anchor="end" fill="#1e1e1e">20</text>
<line x1="318.20" y1="564.56" x2="321.20" y2="564.56" stroke="#555" stroke-width="0.8"/>
<text x="317.30" y="567.06" font-size="7.2" text-anchor="end" fill="#1e1e1e">40</text>
<line x1="318.20" y1="549.24" x2="321.20" y2="549.24" stroke="#555" stroke-width="0.8"/>
<text x="317.30" y="551.74" font-size="7.2" text-anchor="end" fill="#1e1e1e">60</text>
<line x1="318.20" y1="533.92" x2="321.20" y2="533.92" stroke="#555" stroke-width="0.8"/>
<text x="317.30" y="536.42" font-size="7.2" text-anchor="end" fill="#1e1e1e">80</text>
<line x1="318.20" y1="518.60" x2="321.20" y2="518.60" stroke="#555" stroke-width="0.8"/>
<text x="317.30" y="521.10" font-size="7.2" text-anchor="end" fill="#1e1e1e">100</text>
<line x1="321.30" y1="595.20" x2="321.30" y2="598.00" stroke="#7a7a7a" stroke-width="0.8"/>
<text x="321.30" y="606.30" font-size="7.2" text-anchor="middle" fill="#1e1e1e">0</text>
<line x1="350.55" y1="595.20" x2="350.55" y2="598.00" stroke="#7a7a7a" stroke-width="0.8"/>
<text x="350.55" y="606.30" font-size="7.2" text-anchor="middle" fill="#1e1e1e">50</text>
<line x1="379.80" y1="595.20" x2="379.80" y2="598.00" stroke="#7a7a7a" stroke-width="0.8"/>
<text x="379.80" y="606.30" font-size="7.2" text-anchor="middle" fill="#1e1e1e">100</text>
<line x1="409.05" y1="595.20" x2="409.05" y2="598.00" stroke="#7a7a7a" stroke-width="0.8"/>
<text x="409.05" y="606.30" font-size="7.2" text-anchor="middle" fill="#1e1e1e">150</text>
<line x1="438.30" y1="595.20" x2="438.30" y2="598.00" stroke="#7a7a7a" stroke-width="0.8"/>
<text x="438.30" y="606.30" font-size="7.2" text-anchor="middle" fill="#1e1e1e">200</text>
<path d="M337.50,518.60 H381.20 V569.69 H438.30 V569.69" stroke="#f08592" stroke-width="0.8" fill="none"/>
<path d="M333.70,518.60 H337.50 V544.11 H343.30 V595.20" stroke="#66c866" stroke-width="0.8" fill="none"/>
<path d="M333.70,518.60 H339.50 V544.11 H364.40 V569.69 H382.30 V595.20" stroke="#4a4ae8" stroke-width="0.8" fill="none"/>
<path d="M321.20,518.60 H333.70 V556.90 H336.20 V595.20" stroke="#5a5a5a" stroke-width="0.8" fill="none"/>
<circle cx="438.30" cy="569.60" r="0.9" fill="#333" stroke="none" stroke-width="0.5"/>
<text x="346.70" y="559.10" font-size="5.5" text-anchor="middle" fill="#e07040" style="stroke:#e07040">*</text>
<text x="368.70" y="559.10" font-size="5.5" text-anchor="middle" fill="#e07040" style="stroke:#e07040">*</text>
<text x="386.00" y="553.70" font-size="5.5" text-anchor="middle" fill="#e07040" style="stroke:#e07040">*</text>
<text x="386.00" y="559.10" font-size="5.5" text-anchor="middle" fill="#e07040" style="stroke:#e07040">*</text>
<text x="381.00" y="617.00" font-size="8.2" text-anchor="middle" fill="#1e1e1e">EFS (days)</text>
<text x="20.8" y="557.5" font-size="8.2" text-anchor="middle" fill="#1e1e1e" transform="rotate(-90 20.8 557.5)">Probability of survival</text>
<circle cx="43.75" cy="634.50" r="2.6" fill="#000" stroke="none" stroke-width="0.5"/>
<text x="56.70" y="637.90" font-size="9.7" text-anchor="start" fill="#1e1e1e">Control</text>
<circle cx="121.50" cy="634.50" r="2.6" fill="#22bb22" stroke="none" stroke-width="0.5"/>
<text x="133.50" y="637.90" font-size="9.7" text-anchor="start" fill="#1e1e1e">IRN + TMZ</text>
<circle cx="219.60" cy="634.50" r="2.6" fill="#1111cc" stroke="none" stroke-width="0.5"/>
<text x="232.00" y="637.90" font-size="9.7" text-anchor="start" fill="#1e1e1e">Alisertib</text>
<circle cx="304.20" cy="634.50" r="2.6" fill="#dd1111" stroke="none" stroke-width="0.5"/>
<text x="317.10" y="637.90" font-size="9.7" text-anchor="start" fill="#1e1e1e">Alisertib + IRN + TMZ</text>
</svg>
</body></html>
